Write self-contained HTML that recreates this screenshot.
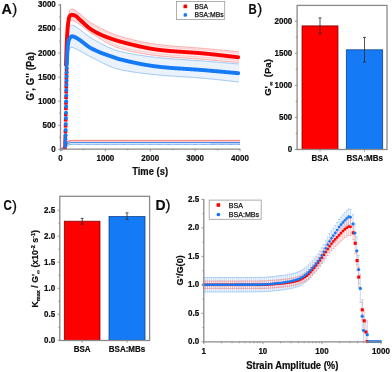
<!DOCTYPE html>
<html><head><meta charset="utf-8"><style>
html,body{margin:0;padding:0;background:#fff;width:392px;height:372px;overflow:hidden}
svg{display:block;will-change:transform}
text{font-family:"Liberation Sans", sans-serif} text[font-weight=bold]{stroke:#0e0e0e;stroke-width:0.2px} text.tl{stroke-width:0.22px} text.pr{stroke:#1a1a1a;stroke-width:0.35px} text[font-weight=normal]{stroke:#111;stroke-width:0.25px}
</style></head><body>
<svg width="392" height="372" viewBox="0 0 392 372" font-family='"Liberation Sans", sans-serif'>
<rect x="0" y="0" width="392" height="372" fill="#ffffff" stroke="none" stroke-width="0" />
<path d="M68,35 L68.86,29.54 L69.72,26.39 L70.58,25.62 L71.44,25.27 L72.3,25.22 L73.16,25.44 L74.02,25.84 L74.87,26.34 L75.73,26.85 L76.59,27.33 L77.45,27.85 L78.31,28.42 L79.17,29.03 L80.03,29.67 L80.89,30.34 L81.75,31.03 L82.61,31.73 L83.47,32.44 L84.33,33.14 L85.19,33.84 L86.05,34.53 L86.9,35.19 L87.76,35.83 L88.62,36.43 L89.48,36.99 L90.34,37.5 L91.2,38.01 L92.06,38.51 L92.92,39.01 L93.78,39.51 L94.64,40.01 L95.5,40.51 L96.36,41 L97.22,41.49 L98.08,41.97 L98.93,42.45 L99.79,42.92 L100.65,43.39 L101.51,43.85 L102.37,44.3 L103.23,44.75 L104.09,45.19 L104.95,45.62 L105.81,46.04 L106.67,46.46 L107.53,46.86 L108.39,47.25 L109.25,47.64 L110.11,48.01 L110.96,48.38 L111.82,48.73 L112.68,49.07 L113.54,49.39 L114.4,49.71 L115.26,50.01 L116.12,50.29 L116.98,50.56 L117.84,50.82 L118.7,51.06 L119.56,51.29 L120.42,51.5 L121.28,51.71 L122.14,51.91 L122.99,52.11 L123.85,52.3 L124.71,52.49 L125.57,52.68 L126.43,52.86 L127.29,53.04 L128.15,53.22 L129.01,53.39 L129.87,53.56 L130.73,53.72 L131.59,53.89 L132.45,54.05 L133.31,54.2 L134.17,54.35 L135.03,54.5 L135.88,54.65 L136.74,54.79 L137.6,54.93 L138.46,55.07 L139.32,55.21 L140.18,55.34 L141.04,55.47 L141.9,55.6 L142.76,55.72 L143.62,55.84 L144.48,55.96 L145.34,56.08 L146.2,56.2 L147.06,56.31 L147.91,56.42 L148.77,56.53 L149.63,56.64 L150.49,56.74 L151.35,56.85 L152.21,56.95 L153.07,57.05 L153.93,57.15 L154.79,57.24 L155.65,57.34 L156.51,57.43 L157.37,57.53 L158.23,57.62 L159.09,57.71 L159.94,57.79 L160.8,57.88 L161.66,57.97 L162.52,58.05 L163.38,58.13 L164.24,58.21 L165.1,58.29 L165.96,58.36 L166.82,58.44 L167.68,58.51 L168.54,58.58 L169.4,58.65 L170.26,58.72 L171.12,58.79 L171.97,58.85 L172.83,58.92 L173.69,58.98 L174.55,59.04 L175.41,59.11 L176.27,59.17 L177.13,59.23 L177.99,59.29 L178.85,59.35 L179.71,59.41 L180.57,59.46 L181.43,59.52 L182.29,59.58 L183.15,59.63 L184.01,59.69 L184.86,59.75 L185.72,59.8 L186.58,59.86 L187.44,59.91 L188.3,59.97 L189.16,60.03 L190.02,60.08 L190.88,60.14 L191.74,60.2 L192.6,60.25 L193.46,60.31 L194.32,60.37 L195.18,60.43 L196.04,60.49 L196.89,60.55 L197.75,60.61 L198.61,60.67 L199.47,60.73 L200.33,60.8 L201.19,60.86 L202.05,60.93 L202.91,60.99 L203.77,61.06 L204.63,61.13 L205.49,61.2 L206.35,61.27 L207.21,61.34 L208.07,61.4 L208.92,61.47 L209.78,61.54 L210.64,61.62 L211.5,61.69 L212.36,61.76 L213.22,61.83 L214.08,61.9 L214.94,61.97 L215.8,62.04 L216.66,62.11 L217.52,62.19 L218.38,62.26 L219.24,62.33 L220.1,62.4 L220.95,62.48 L221.81,62.55 L222.67,62.62 L223.53,62.69 L224.39,62.77 L225.25,62.84 L226.11,62.91 L226.97,62.99 L227.83,63.06 L228.69,63.13 L229.55,63.2 L230.41,63.28 L231.27,63.35 L232.13,63.42 L232.98,63.49 L233.84,63.57 L234.7,63.64 L235.56,63.71 L236.42,63.78 L237.28,63.86 L238.14,63.93 L239,64 L239,82 L238.14,81.91 L237.28,81.82 L236.42,81.72 L235.56,81.63 L234.7,81.54 L233.84,81.44 L232.98,81.35 L232.13,81.25 L231.27,81.16 L230.41,81.06 L229.55,80.97 L228.69,80.87 L227.83,80.77 L226.97,80.68 L226.11,80.58 L225.25,80.49 L224.39,80.39 L223.53,80.29 L222.67,80.2 L221.81,80.1 L220.95,80.01 L220.1,79.91 L219.24,79.82 L218.38,79.73 L217.52,79.63 L216.66,79.54 L215.8,79.45 L214.94,79.36 L214.08,79.27 L213.22,79.18 L212.36,79.09 L211.5,79 L210.64,78.91 L209.78,78.83 L208.92,78.75 L208.07,78.66 L207.21,78.58 L206.35,78.5 L205.49,78.42 L204.63,78.34 L203.77,78.27 L202.91,78.19 L202.05,78.12 L201.19,78.05 L200.33,77.98 L199.47,77.91 L198.61,77.84 L197.75,77.78 L196.89,77.71 L196.04,77.65 L195.18,77.59 L194.32,77.53 L193.46,77.47 L192.6,77.41 L191.74,77.35 L190.88,77.29 L190.02,77.24 L189.16,77.18 L188.3,77.13 L187.44,77.07 L186.58,77.02 L185.72,76.96 L184.86,76.91 L184.01,76.85 L183.15,76.8 L182.29,76.75 L181.43,76.69 L180.57,76.64 L179.71,76.58 L178.85,76.53 L177.99,76.47 L177.13,76.42 L176.27,76.36 L175.41,76.31 L174.55,76.25 L173.69,76.19 L172.83,76.13 L171.97,76.07 L171.12,76.01 L170.26,75.95 L169.4,75.89 L168.54,75.82 L167.68,75.76 L166.82,75.69 L165.96,75.62 L165.1,75.55 L164.24,75.48 L163.38,75.41 L162.52,75.33 L161.66,75.25 L160.8,75.18 L159.94,75.09 L159.09,75.01 L158.23,74.93 L157.37,74.85 L156.51,74.77 L155.65,74.68 L154.79,74.6 L153.93,74.51 L153.07,74.43 L152.21,74.34 L151.35,74.25 L150.49,74.16 L149.63,74.07 L148.77,73.98 L147.91,73.88 L147.06,73.79 L146.2,73.69 L145.34,73.6 L144.48,73.5 L143.62,73.4 L142.76,73.29 L141.9,73.19 L141.04,73.08 L140.18,72.97 L139.32,72.86 L138.46,72.75 L137.6,72.63 L136.74,72.51 L135.88,72.39 L135.03,72.27 L134.17,72.14 L133.31,72.01 L132.45,71.88 L131.59,71.74 L130.73,71.61 L129.87,71.47 L129.01,71.32 L128.15,71.17 L127.29,71.02 L126.43,70.87 L125.57,70.71 L124.71,70.55 L123.85,70.39 L122.99,70.22 L122.14,70.05 L121.28,69.87 L120.42,69.69 L119.56,69.5 L118.7,69.3 L117.84,69.08 L116.98,68.84 L116.12,68.58 L115.26,68.31 L114.4,68.02 L113.54,67.72 L112.68,67.4 L111.82,67.07 L110.96,66.73 L110.11,66.38 L109.25,66.01 L108.39,65.64 L107.53,65.25 L106.67,64.86 L105.81,64.46 L104.95,64.05 L104.09,63.63 L103.23,63.21 L102.37,62.78 L101.51,62.35 L100.65,61.92 L99.79,61.48 L98.93,61.04 L98.08,60.6 L97.22,60.15 L96.36,59.71 L95.5,59.27 L94.64,58.83 L93.78,58.39 L92.92,57.95 L92.06,57.52 L91.2,57.09 L90.34,56.67 L89.48,56.24 L88.62,55.81 L87.76,55.35 L86.9,54.89 L86.05,54.41 L85.19,53.92 L84.33,53.44 L83.47,52.94 L82.61,52.45 L81.75,51.97 L80.89,51.49 L80.03,51.02 L79.17,50.56 L78.31,50.11 L77.45,49.68 L76.59,49.27 L75.73,48.88 L74.87,48.43 L74.02,47.98 L73.16,47.62 L72.3,47.42 L71.44,47.45 L70.58,47.72 L69.72,48.29 L68.86,50.72 L68,55Z" fill="#eaf2fd" stroke="none"/>
<path d="M68,20 L68.86,14 L69.72,10.45 L70.58,9.53 L71.44,9.09 L72.3,9.02 L73.16,9.26 L74.02,9.71 L74.87,10.27 L75.73,10.84 L76.59,11.36 L77.45,11.94 L78.31,12.57 L79.17,13.24 L80.03,13.95 L80.89,14.69 L81.75,15.44 L82.61,16.21 L83.47,16.98 L84.33,17.75 L85.19,18.51 L86.05,19.25 L86.9,19.97 L87.76,20.65 L88.62,21.28 L89.48,21.87 L90.34,22.41 L91.2,22.93 L92.06,23.44 L92.92,23.95 L93.78,24.46 L94.64,24.95 L95.5,25.44 L96.36,25.93 L97.22,26.41 L98.08,26.88 L98.93,27.34 L99.79,27.8 L100.65,28.25 L101.51,28.7 L102.37,29.13 L103.23,29.56 L104.09,29.99 L104.95,30.4 L105.81,30.81 L106.67,31.21 L107.53,31.6 L108.39,31.98 L109.25,32.36 L110.11,32.72 L110.96,33.08 L111.82,33.43 L112.68,33.77 L113.54,34.1 L114.4,34.43 L115.26,34.74 L116.12,35.04 L116.98,35.34 L117.84,35.62 L118.7,35.9 L119.56,36.17 L120.42,36.42 L121.28,36.68 L122.14,36.93 L122.99,37.17 L123.85,37.42 L124.71,37.66 L125.57,37.9 L126.43,38.13 L127.29,38.37 L128.15,38.6 L129.01,38.82 L129.87,39.04 L130.73,39.26 L131.59,39.48 L132.45,39.69 L133.31,39.91 L134.17,40.11 L135.03,40.32 L135.88,40.52 L136.74,40.72 L137.6,40.91 L138.46,41.1 L139.32,41.29 L140.18,41.48 L141.04,41.66 L141.9,41.83 L142.76,42.01 L143.62,42.18 L144.48,42.35 L145.34,42.52 L146.2,42.68 L147.06,42.83 L147.91,42.99 L148.77,43.14 L149.63,43.29 L150.49,43.43 L151.35,43.58 L152.21,43.71 L153.07,43.85 L153.93,43.98 L154.79,44.1 L155.65,44.23 L156.51,44.35 L157.37,44.47 L158.23,44.58 L159.09,44.69 L159.94,44.79 L160.8,44.9 L161.66,45 L162.52,45.09 L163.38,45.19 L164.24,45.28 L165.1,45.37 L165.96,45.46 L166.82,45.55 L167.68,45.63 L168.54,45.71 L169.4,45.79 L170.26,45.87 L171.12,45.95 L171.97,46.02 L172.83,46.1 L173.69,46.17 L174.55,46.24 L175.41,46.31 L176.27,46.38 L177.13,46.45 L177.99,46.51 L178.85,46.58 L179.71,46.65 L180.57,46.71 L181.43,46.77 L182.29,46.84 L183.15,46.9 L184.01,46.96 L184.86,47.02 L185.72,47.08 L186.58,47.14 L187.44,47.21 L188.3,47.27 L189.16,47.33 L190.02,47.39 L190.88,47.45 L191.74,47.51 L192.6,47.58 L193.46,47.64 L194.32,47.7 L195.18,47.77 L196.04,47.83 L196.89,47.9 L197.75,47.97 L198.61,48.03 L199.47,48.1 L200.33,48.17 L201.19,48.24 L202.05,48.32 L202.91,48.39 L203.77,48.47 L204.63,48.54 L205.49,48.62 L206.35,48.7 L207.21,48.77 L208.07,48.85 L208.92,48.93 L209.78,49 L210.64,49.08 L211.5,49.16 L212.36,49.24 L213.22,49.32 L214.08,49.39 L214.94,49.47 L215.8,49.55 L216.66,49.63 L217.52,49.71 L218.38,49.79 L219.24,49.87 L220.1,49.95 L220.95,50.03 L221.81,50.11 L222.67,50.19 L223.53,50.27 L224.39,50.35 L225.25,50.43 L226.11,50.51 L226.97,50.59 L227.83,50.67 L228.69,50.75 L229.55,50.83 L230.41,50.91 L231.27,50.99 L232.13,51.07 L232.98,51.15 L233.84,51.22 L234.7,51.3 L235.56,51.38 L236.42,51.46 L237.28,51.54 L238.14,51.62 L239,51.7 L239,62.5 L238.14,62.42 L237.28,62.35 L236.42,62.27 L235.56,62.19 L234.7,62.12 L233.84,62.04 L232.98,61.96 L232.13,61.88 L231.27,61.8 L230.41,61.73 L229.55,61.65 L228.69,61.57 L227.83,61.49 L226.97,61.41 L226.11,61.34 L225.25,61.26 L224.39,61.18 L223.53,61.1 L222.67,61.02 L221.81,60.95 L220.95,60.87 L220.1,60.79 L219.24,60.71 L218.38,60.63 L217.52,60.56 L216.66,60.48 L215.8,60.4 L214.94,60.33 L214.08,60.25 L213.22,60.18 L212.36,60.1 L211.5,60.02 L210.64,59.95 L209.78,59.87 L208.92,59.8 L208.07,59.73 L207.21,59.65 L206.35,59.58 L205.49,59.51 L204.63,59.44 L203.77,59.36 L202.91,59.29 L202.05,59.22 L201.19,59.15 L200.33,59.09 L199.47,59.02 L198.61,58.96 L197.75,58.89 L196.89,58.83 L196.04,58.77 L195.18,58.71 L194.32,58.65 L193.46,58.59 L192.6,58.53 L191.74,58.47 L190.88,58.41 L190.02,58.36 L189.16,58.3 L188.3,58.24 L187.44,58.19 L186.58,58.13 L185.72,58.08 L184.86,58.02 L184.01,57.96 L183.15,57.91 L182.29,57.85 L181.43,57.79 L180.57,57.73 L179.71,57.68 L178.85,57.62 L177.99,57.56 L177.13,57.5 L176.27,57.43 L175.41,57.37 L174.55,57.31 L173.69,57.24 L172.83,57.18 L171.97,57.11 L171.12,57.04 L170.26,56.97 L169.4,56.9 L168.54,56.83 L167.68,56.75 L166.82,56.68 L165.96,56.6 L165.1,56.52 L164.24,56.44 L163.38,56.35 L162.52,56.27 L161.66,56.18 L160.8,56.09 L159.94,55.99 L159.09,55.9 L158.23,55.8 L157.37,55.7 L156.51,55.6 L155.65,55.49 L154.79,55.38 L153.93,55.27 L153.07,55.16 L152.21,55.04 L151.35,54.92 L150.49,54.8 L149.63,54.68 L148.77,54.55 L147.91,54.42 L147.06,54.29 L146.2,54.15 L145.34,54.02 L144.48,53.87 L143.62,53.73 L142.76,53.58 L141.9,53.43 L141.04,53.28 L140.18,53.12 L139.32,52.96 L138.46,52.8 L137.6,52.63 L136.74,52.46 L135.88,52.28 L135.03,52.11 L134.17,51.93 L133.31,51.74 L132.45,51.55 L131.59,51.36 L130.73,51.17 L129.87,50.97 L129.01,50.76 L128.15,50.56 L127.29,50.35 L126.43,50.13 L125.57,49.91 L124.71,49.69 L123.85,49.47 L122.99,49.23 L122.14,49 L121.28,48.76 L120.42,48.52 L119.56,48.27 L118.7,48 L117.84,47.72 L116.98,47.41 L116.12,47.09 L115.26,46.76 L114.4,46.4 L113.54,46.03 L112.68,45.65 L111.82,45.25 L110.96,44.83 L110.11,44.41 L109.25,43.97 L108.39,43.52 L107.53,43.06 L106.67,42.59 L105.81,42.11 L104.95,41.62 L104.09,41.12 L103.23,40.61 L102.37,40.1 L101.51,39.58 L100.65,39.05 L99.79,38.52 L98.93,37.98 L98.08,37.44 L97.22,36.9 L96.36,36.36 L95.5,35.81 L94.64,35.26 L93.78,34.71 L92.92,34.16 L92.06,33.61 L91.2,33.06 L90.34,32.52 L89.48,31.96 L88.62,31.38 L87.76,30.76 L86.9,30.11 L86.05,29.44 L85.19,28.75 L84.33,28.06 L83.47,27.36 L82.61,26.66 L81.75,25.97 L80.89,25.3 L80.03,24.64 L79.17,24.01 L78.31,23.41 L77.45,22.85 L76.59,22.33 L75.73,21.85 L74.87,21.34 L74.02,20.84 L73.16,20.44 L72.3,20.22 L71.44,20.27 L70.58,20.62 L69.72,21.39 L68.86,24.54 L68,30Z" fill="#fdeded" stroke="none"/>
<path d="M68,35 L68.86,29.54 L69.72,26.39 L70.58,25.62 L71.44,25.27 L72.3,25.22 L73.16,25.44 L74.02,25.84 L74.87,26.34 L75.73,26.85 L76.59,27.33 L77.45,27.85 L78.31,28.42 L79.17,29.03 L80.03,29.67 L80.89,30.34 L81.75,31.03 L82.61,31.73 L83.47,32.44 L84.33,33.14 L85.19,33.84 L86.05,34.53 L86.9,35.19 L87.76,35.83 L88.62,36.43 L89.48,36.99 L90.34,37.5 L91.2,38.01 L92.06,38.51 L92.92,39.01 L93.78,39.51 L94.64,40.01 L95.5,40.51 L96.36,41 L97.22,41.49 L98.08,41.97 L98.93,42.45 L99.79,42.92 L100.65,43.39 L101.51,43.85 L102.37,44.3 L103.23,44.75 L104.09,45.19 L104.95,45.62 L105.81,46.04 L106.67,46.46 L107.53,46.86 L108.39,47.25 L109.25,47.64 L110.11,48.01 L110.96,48.38 L111.82,48.73 L112.68,49.07 L113.54,49.39 L114.4,49.71 L115.26,50.01 L116.12,50.29 L116.98,50.56 L117.84,50.82 L118.7,51.06 L119.56,51.29 L120.42,51.5 L121.28,51.71 L122.14,51.91 L122.99,52.11 L123.85,52.3 L124.71,52.49 L125.57,52.68 L126.43,52.86 L127.29,53.04 L128.15,53.22 L129.01,53.39 L129.87,53.56 L130.73,53.72 L131.59,53.89 L132.45,54.05 L133.31,54.2 L134.17,54.35 L135.03,54.5 L135.88,54.65 L136.74,54.79 L137.6,54.93 L138.46,55.07 L139.32,55.21 L140.18,55.34 L141.04,55.47 L141.9,55.6 L142.76,55.72 L143.62,55.84 L144.48,55.96 L145.34,56.08 L146.2,56.2 L147.06,56.31 L147.91,56.42 L148.77,56.53 L149.63,56.64 L150.49,56.74 L151.35,56.85 L152.21,56.95 L153.07,57.05 L153.93,57.15 L154.79,57.24 L155.65,57.34 L156.51,57.43 L157.37,57.53 L158.23,57.62 L159.09,57.71 L159.94,57.79 L160.8,57.88 L161.66,57.97 L162.52,58.05 L163.38,58.13 L164.24,58.21 L165.1,58.29 L165.96,58.36 L166.82,58.44 L167.68,58.51 L168.54,58.58 L169.4,58.65 L170.26,58.72 L171.12,58.79 L171.97,58.85 L172.83,58.92 L173.69,58.98 L174.55,59.04 L175.41,59.11 L176.27,59.17 L177.13,59.23 L177.99,59.29 L178.85,59.35 L179.71,59.41 L180.57,59.46 L181.43,59.52 L182.29,59.58 L183.15,59.63 L184.01,59.69 L184.86,59.75 L185.72,59.8 L186.58,59.86 L187.44,59.91 L188.3,59.97 L189.16,60.03 L190.02,60.08 L190.88,60.14 L191.74,60.2 L192.6,60.25 L193.46,60.31 L194.32,60.37 L195.18,60.43 L196.04,60.49 L196.89,60.55 L197.75,60.61 L198.61,60.67 L199.47,60.73 L200.33,60.8 L201.19,60.86 L202.05,60.93 L202.91,60.99 L203.77,61.06 L204.63,61.13 L205.49,61.2 L206.35,61.27 L207.21,61.34 L208.07,61.4 L208.92,61.47 L209.78,61.54 L210.64,61.62 L211.5,61.69 L212.36,61.76 L213.22,61.83 L214.08,61.9 L214.94,61.97 L215.8,62.04 L216.66,62.11 L217.52,62.19 L218.38,62.26 L219.24,62.33 L220.1,62.4 L220.95,62.48 L221.81,62.55 L222.67,62.62 L223.53,62.69 L224.39,62.77 L225.25,62.84 L226.11,62.91 L226.97,62.99 L227.83,63.06 L228.69,63.13 L229.55,63.2 L230.41,63.28 L231.27,63.35 L232.13,63.42 L232.98,63.49 L233.84,63.57 L234.7,63.64 L235.56,63.71 L236.42,63.78 L237.28,63.86 L238.14,63.93 L239,64" stroke="#8dbdf3" stroke-width="0.9" fill="none" />
<path d="M68,55 L68.86,50.72 L69.72,48.29 L70.58,47.72 L71.44,47.45 L72.3,47.42 L73.16,47.62 L74.02,47.98 L74.87,48.43 L75.73,48.88 L76.59,49.27 L77.45,49.68 L78.31,50.11 L79.17,50.56 L80.03,51.02 L80.89,51.49 L81.75,51.97 L82.61,52.45 L83.47,52.94 L84.33,53.44 L85.19,53.92 L86.05,54.41 L86.9,54.89 L87.76,55.35 L88.62,55.81 L89.48,56.24 L90.34,56.67 L91.2,57.09 L92.06,57.52 L92.92,57.95 L93.78,58.39 L94.64,58.83 L95.5,59.27 L96.36,59.71 L97.22,60.15 L98.08,60.6 L98.93,61.04 L99.79,61.48 L100.65,61.92 L101.51,62.35 L102.37,62.78 L103.23,63.21 L104.09,63.63 L104.95,64.05 L105.81,64.46 L106.67,64.86 L107.53,65.25 L108.39,65.64 L109.25,66.01 L110.11,66.38 L110.96,66.73 L111.82,67.07 L112.68,67.4 L113.54,67.72 L114.4,68.02 L115.26,68.31 L116.12,68.58 L116.98,68.84 L117.84,69.08 L118.7,69.3 L119.56,69.5 L120.42,69.69 L121.28,69.87 L122.14,70.05 L122.99,70.22 L123.85,70.39 L124.71,70.55 L125.57,70.71 L126.43,70.87 L127.29,71.02 L128.15,71.17 L129.01,71.32 L129.87,71.47 L130.73,71.61 L131.59,71.74 L132.45,71.88 L133.31,72.01 L134.17,72.14 L135.03,72.27 L135.88,72.39 L136.74,72.51 L137.6,72.63 L138.46,72.75 L139.32,72.86 L140.18,72.97 L141.04,73.08 L141.9,73.19 L142.76,73.29 L143.62,73.4 L144.48,73.5 L145.34,73.6 L146.2,73.69 L147.06,73.79 L147.91,73.88 L148.77,73.98 L149.63,74.07 L150.49,74.16 L151.35,74.25 L152.21,74.34 L153.07,74.43 L153.93,74.51 L154.79,74.6 L155.65,74.68 L156.51,74.77 L157.37,74.85 L158.23,74.93 L159.09,75.01 L159.94,75.09 L160.8,75.18 L161.66,75.25 L162.52,75.33 L163.38,75.41 L164.24,75.48 L165.1,75.55 L165.96,75.62 L166.82,75.69 L167.68,75.76 L168.54,75.82 L169.4,75.89 L170.26,75.95 L171.12,76.01 L171.97,76.07 L172.83,76.13 L173.69,76.19 L174.55,76.25 L175.41,76.31 L176.27,76.36 L177.13,76.42 L177.99,76.47 L178.85,76.53 L179.71,76.58 L180.57,76.64 L181.43,76.69 L182.29,76.75 L183.15,76.8 L184.01,76.85 L184.86,76.91 L185.72,76.96 L186.58,77.02 L187.44,77.07 L188.3,77.13 L189.16,77.18 L190.02,77.24 L190.88,77.29 L191.74,77.35 L192.6,77.41 L193.46,77.47 L194.32,77.53 L195.18,77.59 L196.04,77.65 L196.89,77.71 L197.75,77.78 L198.61,77.84 L199.47,77.91 L200.33,77.98 L201.19,78.05 L202.05,78.12 L202.91,78.19 L203.77,78.27 L204.63,78.34 L205.49,78.42 L206.35,78.5 L207.21,78.58 L208.07,78.66 L208.92,78.75 L209.78,78.83 L210.64,78.91 L211.5,79 L212.36,79.09 L213.22,79.18 L214.08,79.27 L214.94,79.36 L215.8,79.45 L216.66,79.54 L217.52,79.63 L218.38,79.73 L219.24,79.82 L220.1,79.91 L220.95,80.01 L221.81,80.1 L222.67,80.2 L223.53,80.29 L224.39,80.39 L225.25,80.49 L226.11,80.58 L226.97,80.68 L227.83,80.77 L228.69,80.87 L229.55,80.97 L230.41,81.06 L231.27,81.16 L232.13,81.25 L232.98,81.35 L233.84,81.44 L234.7,81.54 L235.56,81.63 L236.42,81.72 L237.28,81.82 L238.14,81.91 L239,82" stroke="#8dbdf3" stroke-width="0.9" fill="none" />
<path d="M68,20 L68.86,14 L69.72,10.45 L70.58,9.53 L71.44,9.09 L72.3,9.02 L73.16,9.26 L74.02,9.71 L74.87,10.27 L75.73,10.84 L76.59,11.36 L77.45,11.94 L78.31,12.57 L79.17,13.24 L80.03,13.95 L80.89,14.69 L81.75,15.44 L82.61,16.21 L83.47,16.98 L84.33,17.75 L85.19,18.51 L86.05,19.25 L86.9,19.97 L87.76,20.65 L88.62,21.28 L89.48,21.87 L90.34,22.41 L91.2,22.93 L92.06,23.44 L92.92,23.95 L93.78,24.46 L94.64,24.95 L95.5,25.44 L96.36,25.93 L97.22,26.41 L98.08,26.88 L98.93,27.34 L99.79,27.8 L100.65,28.25 L101.51,28.7 L102.37,29.13 L103.23,29.56 L104.09,29.99 L104.95,30.4 L105.81,30.81 L106.67,31.21 L107.53,31.6 L108.39,31.98 L109.25,32.36 L110.11,32.72 L110.96,33.08 L111.82,33.43 L112.68,33.77 L113.54,34.1 L114.4,34.43 L115.26,34.74 L116.12,35.04 L116.98,35.34 L117.84,35.62 L118.7,35.9 L119.56,36.17 L120.42,36.42 L121.28,36.68 L122.14,36.93 L122.99,37.17 L123.85,37.42 L124.71,37.66 L125.57,37.9 L126.43,38.13 L127.29,38.37 L128.15,38.6 L129.01,38.82 L129.87,39.04 L130.73,39.26 L131.59,39.48 L132.45,39.69 L133.31,39.91 L134.17,40.11 L135.03,40.32 L135.88,40.52 L136.74,40.72 L137.6,40.91 L138.46,41.1 L139.32,41.29 L140.18,41.48 L141.04,41.66 L141.9,41.83 L142.76,42.01 L143.62,42.18 L144.48,42.35 L145.34,42.52 L146.2,42.68 L147.06,42.83 L147.91,42.99 L148.77,43.14 L149.63,43.29 L150.49,43.43 L151.35,43.58 L152.21,43.71 L153.07,43.85 L153.93,43.98 L154.79,44.1 L155.65,44.23 L156.51,44.35 L157.37,44.47 L158.23,44.58 L159.09,44.69 L159.94,44.79 L160.8,44.9 L161.66,45 L162.52,45.09 L163.38,45.19 L164.24,45.28 L165.1,45.37 L165.96,45.46 L166.82,45.55 L167.68,45.63 L168.54,45.71 L169.4,45.79 L170.26,45.87 L171.12,45.95 L171.97,46.02 L172.83,46.1 L173.69,46.17 L174.55,46.24 L175.41,46.31 L176.27,46.38 L177.13,46.45 L177.99,46.51 L178.85,46.58 L179.71,46.65 L180.57,46.71 L181.43,46.77 L182.29,46.84 L183.15,46.9 L184.01,46.96 L184.86,47.02 L185.72,47.08 L186.58,47.14 L187.44,47.21 L188.3,47.27 L189.16,47.33 L190.02,47.39 L190.88,47.45 L191.74,47.51 L192.6,47.58 L193.46,47.64 L194.32,47.7 L195.18,47.77 L196.04,47.83 L196.89,47.9 L197.75,47.97 L198.61,48.03 L199.47,48.1 L200.33,48.17 L201.19,48.24 L202.05,48.32 L202.91,48.39 L203.77,48.47 L204.63,48.54 L205.49,48.62 L206.35,48.7 L207.21,48.77 L208.07,48.85 L208.92,48.93 L209.78,49 L210.64,49.08 L211.5,49.16 L212.36,49.24 L213.22,49.32 L214.08,49.39 L214.94,49.47 L215.8,49.55 L216.66,49.63 L217.52,49.71 L218.38,49.79 L219.24,49.87 L220.1,49.95 L220.95,50.03 L221.81,50.11 L222.67,50.19 L223.53,50.27 L224.39,50.35 L225.25,50.43 L226.11,50.51 L226.97,50.59 L227.83,50.67 L228.69,50.75 L229.55,50.83 L230.41,50.91 L231.27,50.99 L232.13,51.07 L232.98,51.15 L233.84,51.22 L234.7,51.3 L235.56,51.38 L236.42,51.46 L237.28,51.54 L238.14,51.62 L239,51.7" stroke="#fb9a9a" stroke-width="0.9" fill="none" />
<path d="M68,30 L68.86,24.54 L69.72,21.39 L70.58,20.62 L71.44,20.27 L72.3,20.22 L73.16,20.44 L74.02,20.84 L74.87,21.34 L75.73,21.85 L76.59,22.33 L77.45,22.85 L78.31,23.41 L79.17,24.01 L80.03,24.64 L80.89,25.3 L81.75,25.97 L82.61,26.66 L83.47,27.36 L84.33,28.06 L85.19,28.75 L86.05,29.44 L86.9,30.11 L87.76,30.76 L88.62,31.38 L89.48,31.96 L90.34,32.52 L91.2,33.06 L92.06,33.61 L92.92,34.16 L93.78,34.71 L94.64,35.26 L95.5,35.81 L96.36,36.36 L97.22,36.9 L98.08,37.44 L98.93,37.98 L99.79,38.52 L100.65,39.05 L101.51,39.58 L102.37,40.1 L103.23,40.61 L104.09,41.12 L104.95,41.62 L105.81,42.11 L106.67,42.59 L107.53,43.06 L108.39,43.52 L109.25,43.97 L110.11,44.41 L110.96,44.83 L111.82,45.25 L112.68,45.65 L113.54,46.03 L114.4,46.4 L115.26,46.76 L116.12,47.09 L116.98,47.41 L117.84,47.72 L118.7,48 L119.56,48.27 L120.42,48.52 L121.28,48.76 L122.14,49 L122.99,49.23 L123.85,49.47 L124.71,49.69 L125.57,49.91 L126.43,50.13 L127.29,50.35 L128.15,50.56 L129.01,50.76 L129.87,50.97 L130.73,51.17 L131.59,51.36 L132.45,51.55 L133.31,51.74 L134.17,51.93 L135.03,52.11 L135.88,52.28 L136.74,52.46 L137.6,52.63 L138.46,52.8 L139.32,52.96 L140.18,53.12 L141.04,53.28 L141.9,53.43 L142.76,53.58 L143.62,53.73 L144.48,53.87 L145.34,54.02 L146.2,54.15 L147.06,54.29 L147.91,54.42 L148.77,54.55 L149.63,54.68 L150.49,54.8 L151.35,54.92 L152.21,55.04 L153.07,55.16 L153.93,55.27 L154.79,55.38 L155.65,55.49 L156.51,55.6 L157.37,55.7 L158.23,55.8 L159.09,55.9 L159.94,55.99 L160.8,56.09 L161.66,56.18 L162.52,56.27 L163.38,56.35 L164.24,56.44 L165.1,56.52 L165.96,56.6 L166.82,56.68 L167.68,56.75 L168.54,56.83 L169.4,56.9 L170.26,56.97 L171.12,57.04 L171.97,57.11 L172.83,57.18 L173.69,57.24 L174.55,57.31 L175.41,57.37 L176.27,57.43 L177.13,57.5 L177.99,57.56 L178.85,57.62 L179.71,57.68 L180.57,57.73 L181.43,57.79 L182.29,57.85 L183.15,57.91 L184.01,57.96 L184.86,58.02 L185.72,58.08 L186.58,58.13 L187.44,58.19 L188.3,58.24 L189.16,58.3 L190.02,58.36 L190.88,58.41 L191.74,58.47 L192.6,58.53 L193.46,58.59 L194.32,58.65 L195.18,58.71 L196.04,58.77 L196.89,58.83 L197.75,58.89 L198.61,58.96 L199.47,59.02 L200.33,59.09 L201.19,59.15 L202.05,59.22 L202.91,59.29 L203.77,59.36 L204.63,59.44 L205.49,59.51 L206.35,59.58 L207.21,59.65 L208.07,59.73 L208.92,59.8 L209.78,59.87 L210.64,59.95 L211.5,60.02 L212.36,60.1 L213.22,60.18 L214.08,60.25 L214.94,60.33 L215.8,60.4 L216.66,60.48 L217.52,60.56 L218.38,60.63 L219.24,60.71 L220.1,60.79 L220.95,60.87 L221.81,60.95 L222.67,61.02 L223.53,61.1 L224.39,61.18 L225.25,61.26 L226.11,61.34 L226.97,61.41 L227.83,61.49 L228.69,61.57 L229.55,61.65 L230.41,61.73 L231.27,61.8 L232.13,61.88 L232.98,61.96 L233.84,62.04 L234.7,62.12 L235.56,62.19 L236.42,62.27 L237.28,62.35 L238.14,62.42 L239,62.5" stroke="#fb9a9a" stroke-width="0.9" fill="none" />
<path d="M71.44,10.69 L72.3,10.62 L73.16,10.86 L74.02,11.31 L74.87,11.87 L75.73,12.44 L76.59,12.96 L77.45,13.54 L78.31,14.17 L79.17,14.84 L80.03,15.55 L80.89,16.29 L81.75,17.04 L82.61,17.81 L83.47,18.58 L84.33,19.35 L85.19,20.11 L86.05,20.85 L86.9,21.57 L87.76,22.25 L88.62,22.88 L89.48,23.47 L90.34,24.01 L91.2,24.53 L92.06,25.04 L92.92,25.55 L93.78,26.06 L94.64,26.55 L95.5,27.04 L96.36,27.53 L97.22,28.01 L98.08,28.48 L98.93,28.94 L99.79,29.4 L100.65,29.85 L101.51,30.3 L102.37,30.73 L103.23,31.16 L104.09,31.59 L104.95,32 L105.81,32.41 L106.67,32.81 L107.53,33.2 L108.39,33.58 L109.25,33.96 L110.11,34.32 L110.96,34.68 L111.82,35.03 L112.68,35.37 L113.54,35.7 L114.4,36.03 L115.26,36.34 L116.12,36.64 L116.98,36.94 L117.84,37.22 L118.7,37.5 L119.56,37.77 L120.42,38.02 L121.28,38.28 L122.14,38.53 L122.99,38.77 L123.85,39.02 L124.71,39.26 L125.57,39.5 L126.43,39.73 L127.29,39.97 L128.15,40.2 L129.01,40.42 L129.87,40.64 L130.73,40.86 L131.59,41.08 L132.45,41.29 L133.31,41.51 L134.17,41.71 L135.03,41.92 L135.88,42.12 L136.74,42.32 L137.6,42.51 L138.46,42.7 L139.32,42.89 L140.18,43.08 L141.04,43.26 L141.9,43.43 L142.76,43.61 L143.62,43.78 L144.48,43.95 L145.34,44.12 L146.2,44.28 L147.06,44.43 L147.91,44.59 L148.77,44.74 L149.63,44.89 L150.49,45.03 L151.35,45.18 L152.21,45.31 L153.07,45.45 L153.93,45.58 L154.79,45.7 L155.65,45.83 L156.51,45.95 L157.37,46.07 L158.23,46.18 L159.09,46.29 L159.94,46.39 L160.8,46.5 L161.66,46.6 L162.52,46.69 L163.38,46.79 L164.24,46.88 L165.1,46.97 L165.96,47.06 L166.82,47.15 L167.68,47.23 L168.54,47.31 L169.4,47.39 L170.26,47.47 L171.12,47.55 L171.97,47.62 L172.83,47.7 L173.69,47.77 L174.55,47.84 L175.41,47.91 L176.27,47.98 L177.13,48.05 L177.99,48.11 L178.85,48.18 L179.71,48.25 L180.57,48.31 L181.43,48.37 L182.29,48.44 L183.15,48.5 L184.01,48.56 L184.86,48.62 L185.72,48.68 L186.58,48.74 L187.44,48.81 L188.3,48.87 L189.16,48.93 L190.02,48.99 L190.88,49.05 L191.74,49.11 L192.6,49.18 L193.46,49.24 L194.32,49.3 L195.18,49.37 L196.04,49.43 L196.89,49.5 L197.75,49.57 L198.61,49.63 L199.47,49.7 L200.33,49.77 L201.19,49.84 L202.05,49.92 L202.91,49.99 L203.77,50.07 L204.63,50.14 L205.49,50.22 L206.35,50.3 L207.21,50.37 L208.07,50.45 L208.92,50.53 L209.78,50.6 L210.64,50.68 L211.5,50.76 L212.36,50.84 L213.22,50.92 L214.08,50.99 L214.94,51.07 L215.8,51.15 L216.66,51.23 L217.52,51.31 L218.38,51.39 L219.24,51.47 L220.1,51.55 L220.95,51.63 L221.81,51.71 L222.67,51.79 L223.53,51.87 L224.39,51.95 L225.25,52.03 L226.11,52.11 L226.97,52.19 L227.83,52.27 L228.69,52.35 L229.55,52.43 L230.41,52.51 L231.27,52.59 L232.13,52.67 L232.98,52.75 L233.84,52.82 L234.7,52.9 L235.56,52.98 L236.42,53.06 L237.28,53.14 L238.14,53.22 L239,53.3" stroke="#fcb8b8" stroke-width="0.7" fill="none" />
<path d="M71.44,18.27 L72.3,18.22 L73.16,18.44 L74.02,18.84 L74.87,19.34 L75.73,19.85 L76.59,20.33 L77.45,20.85 L78.31,21.41 L79.17,22.01 L80.03,22.64 L80.89,23.3 L81.75,23.97 L82.61,24.66 L83.47,25.36 L84.33,26.06 L85.19,26.75 L86.05,27.44 L86.9,28.11 L87.76,28.76 L88.62,29.38 L89.48,29.96 L90.34,30.52 L91.2,31.06 L92.06,31.61 L92.92,32.16 L93.78,32.71 L94.64,33.26 L95.5,33.81 L96.36,34.36 L97.22,34.9 L98.08,35.44 L98.93,35.98 L99.79,36.52 L100.65,37.05 L101.51,37.58 L102.37,38.1 L103.23,38.61 L104.09,39.12 L104.95,39.62 L105.81,40.11 L106.67,40.59 L107.53,41.06 L108.39,41.52 L109.25,41.97 L110.11,42.41 L110.96,42.83 L111.82,43.25 L112.68,43.65 L113.54,44.03 L114.4,44.4 L115.26,44.76 L116.12,45.09 L116.98,45.41 L117.84,45.72 L118.7,46 L119.56,46.27 L120.42,46.52 L121.28,46.76 L122.14,47 L122.99,47.23 L123.85,47.47 L124.71,47.69 L125.57,47.91 L126.43,48.13 L127.29,48.35 L128.15,48.56 L129.01,48.76 L129.87,48.97 L130.73,49.17 L131.59,49.36 L132.45,49.55 L133.31,49.74 L134.17,49.93 L135.03,50.11 L135.88,50.28 L136.74,50.46 L137.6,50.63 L138.46,50.8 L139.32,50.96 L140.18,51.12 L141.04,51.28 L141.9,51.43 L142.76,51.58 L143.62,51.73 L144.48,51.87 L145.34,52.02 L146.2,52.15 L147.06,52.29 L147.91,52.42 L148.77,52.55 L149.63,52.68 L150.49,52.8 L151.35,52.92 L152.21,53.04 L153.07,53.16 L153.93,53.27 L154.79,53.38 L155.65,53.49 L156.51,53.6 L157.37,53.7 L158.23,53.8 L159.09,53.9 L159.94,53.99 L160.8,54.09 L161.66,54.18 L162.52,54.27 L163.38,54.35 L164.24,54.44 L165.1,54.52 L165.96,54.6 L166.82,54.68 L167.68,54.75 L168.54,54.83 L169.4,54.9 L170.26,54.97 L171.12,55.04 L171.97,55.11 L172.83,55.18 L173.69,55.24 L174.55,55.31 L175.41,55.37 L176.27,55.43 L177.13,55.5 L177.99,55.56 L178.85,55.62 L179.71,55.68 L180.57,55.73 L181.43,55.79 L182.29,55.85 L183.15,55.91 L184.01,55.96 L184.86,56.02 L185.72,56.08 L186.58,56.13 L187.44,56.19 L188.3,56.24 L189.16,56.3 L190.02,56.36 L190.88,56.41 L191.74,56.47 L192.6,56.53 L193.46,56.59 L194.32,56.65 L195.18,56.71 L196.04,56.77 L196.89,56.83 L197.75,56.89 L198.61,56.96 L199.47,57.02 L200.33,57.09 L201.19,57.15 L202.05,57.22 L202.91,57.29 L203.77,57.36 L204.63,57.44 L205.49,57.51 L206.35,57.58 L207.21,57.65 L208.07,57.73 L208.92,57.8 L209.78,57.87 L210.64,57.95 L211.5,58.02 L212.36,58.1 L213.22,58.18 L214.08,58.25 L214.94,58.33 L215.8,58.4 L216.66,58.48 L217.52,58.56 L218.38,58.63 L219.24,58.71 L220.1,58.79 L220.95,58.87 L221.81,58.95 L222.67,59.02 L223.53,59.1 L224.39,59.18 L225.25,59.26 L226.11,59.34 L226.97,59.41 L227.83,59.49 L228.69,59.57 L229.55,59.65 L230.41,59.73 L231.27,59.8 L232.13,59.88 L232.98,59.96 L233.84,60.04 L234.7,60.12 L235.56,60.19 L236.42,60.27 L237.28,60.35 L238.14,60.42 L239,60.5" stroke="#fcb8b8" stroke-width="0.7" fill="none" />
<path d="M61,148.3 L62.13,147.86 L63.25,147.4 L64.38,146.73 L65.5,145.59 L66.63,144.37 L67.75,143.03 L68.88,142.4 L70.01,142.17 L71.13,142.03 L72.26,142 L73.38,142 L74.51,142 L75.64,142 L76.76,142 L77.89,142 L79.01,142 L80.14,142 L81.26,142 L82.39,142 L83.52,142 L84.64,142 L85.77,142 L86.89,142 L88.02,142 L89.14,142 L90.27,142 L91.4,142 L92.52,142 L93.65,142 L94.77,142 L95.9,142 L97.03,142 L98.15,142 L99.28,142 L100.4,142 L101.53,142 L102.65,142 L103.78,142 L104.91,142 L106.03,142 L107.16,142 L108.28,142 L109.41,142 L110.53,142 L111.66,142 L112.79,142 L113.91,142 L115.04,142 L116.16,142 L117.29,142 L118.42,142 L119.54,142 L120.67,142 L121.79,142 L122.92,142 L124.04,142.01 L125.17,142.01 L126.3,142.01 L127.42,142.01 L128.55,142.01 L129.67,142.01 L130.8,142.01 L131.92,142.01 L133.05,142.01 L134.18,142.01 L135.3,142.01 L136.43,142.01 L137.55,142.01 L138.68,142.01 L139.81,142.01 L140.93,142.01 L142.06,142.02 L143.18,142.02 L144.31,142.02 L145.43,142.02 L146.56,142.02 L147.69,142.02 L148.81,142.02 L149.94,142.02 L151.06,142.02 L152.19,142.02 L153.31,142.02 L154.44,142.02 L155.57,142.03 L156.69,142.03 L157.82,142.03 L158.94,142.03 L160.07,142.03 L161.19,142.03 L162.32,142.03 L163.45,142.03 L164.57,142.03 L165.7,142.03 L166.82,142.03 L167.95,142.04 L169.08,142.04 L170.2,142.04 L171.33,142.04 L172.45,142.04 L173.58,142.04 L174.7,142.04 L175.83,142.04 L176.96,142.04 L178.08,142.04 L179.21,142.05 L180.33,142.05 L181.46,142.05 L182.58,142.05 L183.71,142.05 L184.84,142.05 L185.96,142.05 L187.09,142.05 L188.21,142.05 L189.34,142.06 L190.47,142.06 L191.59,142.06 L192.72,142.06 L193.84,142.06 L194.97,142.06 L196.09,142.06 L197.22,142.06 L198.35,142.06 L199.47,142.07 L200.6,142.07 L201.72,142.07 L202.85,142.07 L203.97,142.07 L205.1,142.07 L206.23,142.07 L207.35,142.07 L208.48,142.07 L209.6,142.07 L210.73,142.08 L211.86,142.08 L212.98,142.08 L214.11,142.08 L215.23,142.08 L216.36,142.08 L217.48,142.08 L218.61,142.08 L219.74,142.08 L220.86,142.08 L221.99,142.09 L223.11,142.09 L224.24,142.09 L225.36,142.09 L226.49,142.09 L227.62,142.09 L228.74,142.09 L229.87,142.09 L230.99,142.09 L232.12,142.09 L233.25,142.09 L234.37,142.1 L235.5,142.1 L236.62,142.1 L237.75,142.1 L238.87,142.1 L240,142.1 L240,144.6 L238.87,144.6 L237.75,144.6 L236.62,144.6 L235.5,144.6 L234.37,144.6 L233.25,144.59 L232.12,144.59 L230.99,144.59 L229.87,144.59 L228.74,144.59 L227.62,144.59 L226.49,144.59 L225.36,144.59 L224.24,144.59 L223.11,144.59 L221.99,144.59 L220.86,144.58 L219.74,144.58 L218.61,144.58 L217.48,144.58 L216.36,144.58 L215.23,144.58 L214.11,144.58 L212.98,144.58 L211.86,144.58 L210.73,144.58 L209.6,144.57 L208.48,144.57 L207.35,144.57 L206.23,144.57 L205.1,144.57 L203.97,144.57 L202.85,144.57 L201.72,144.57 L200.6,144.57 L199.47,144.57 L198.35,144.56 L197.22,144.56 L196.09,144.56 L194.97,144.56 L193.84,144.56 L192.72,144.56 L191.59,144.56 L190.47,144.56 L189.34,144.56 L188.21,144.55 L187.09,144.55 L185.96,144.55 L184.84,144.55 L183.71,144.55 L182.58,144.55 L181.46,144.55 L180.33,144.55 L179.21,144.55 L178.08,144.54 L176.96,144.54 L175.83,144.54 L174.7,144.54 L173.58,144.54 L172.45,144.54 L171.33,144.54 L170.2,144.54 L169.08,144.54 L167.95,144.54 L166.82,144.53 L165.7,144.53 L164.57,144.53 L163.45,144.53 L162.32,144.53 L161.19,144.53 L160.07,144.53 L158.94,144.53 L157.82,144.53 L156.69,144.53 L155.57,144.53 L154.44,144.52 L153.31,144.52 L152.19,144.52 L151.06,144.52 L149.94,144.52 L148.81,144.52 L147.69,144.52 L146.56,144.52 L145.43,144.52 L144.31,144.52 L143.18,144.52 L142.06,144.52 L140.93,144.51 L139.81,144.51 L138.68,144.51 L137.55,144.51 L136.43,144.51 L135.3,144.51 L134.18,144.51 L133.05,144.51 L131.92,144.51 L130.8,144.51 L129.67,144.51 L128.55,144.51 L127.42,144.51 L126.3,144.51 L125.17,144.51 L124.04,144.51 L122.92,144.5 L121.79,144.5 L120.67,144.5 L119.54,144.5 L118.42,144.5 L117.29,144.5 L116.16,144.5 L115.04,144.5 L113.91,144.5 L112.79,144.5 L111.66,144.5 L110.53,144.5 L109.41,144.5 L108.28,144.5 L107.16,144.5 L106.03,144.5 L104.91,144.5 L103.78,144.5 L102.65,144.5 L101.53,144.5 L100.4,144.5 L99.28,144.5 L98.15,144.5 L97.03,144.5 L95.9,144.5 L94.77,144.5 L93.65,144.5 L92.52,144.5 L91.4,144.5 L90.27,144.5 L89.14,144.5 L88.02,144.5 L86.89,144.5 L85.77,144.5 L84.64,144.5 L83.52,144.5 L82.39,144.5 L81.26,144.5 L80.14,144.5 L79.01,144.5 L77.89,144.5 L76.76,144.5 L75.64,144.5 L74.51,144.5 L73.38,144.5 L72.26,144.5 L71.13,144.53 L70.01,144.67 L68.88,144.9 L67.75,145.53 L66.63,146.87 L65.5,148.09 L64.38,149.23 L63.25,149.9 L62.13,150.36 L61,150.8Z" fill="#dde9fb" stroke="none"/>
<path d="M61,147.5 L62.13,146.89 L63.25,146.25 L64.38,145.31 L65.5,143.68 L66.63,142.03 L67.75,140.48 L68.88,139.8 L70.01,139.57 L71.13,139.43 L72.26,139.4 L73.38,139.4 L74.51,139.4 L75.64,139.4 L76.76,139.4 L77.89,139.4 L79.01,139.4 L80.14,139.4 L81.26,139.4 L82.39,139.4 L83.52,139.4 L84.64,139.4 L85.77,139.4 L86.89,139.4 L88.02,139.4 L89.14,139.4 L90.27,139.4 L91.4,139.4 L92.52,139.4 L93.65,139.4 L94.77,139.4 L95.9,139.4 L97.03,139.4 L98.15,139.4 L99.28,139.4 L100.4,139.4 L101.53,139.4 L102.65,139.4 L103.78,139.4 L104.91,139.4 L106.03,139.4 L107.16,139.4 L108.28,139.4 L109.41,139.4 L110.53,139.4 L111.66,139.4 L112.79,139.4 L113.91,139.4 L115.04,139.4 L116.16,139.4 L117.29,139.4 L118.42,139.4 L119.54,139.4 L120.67,139.4 L121.79,139.4 L122.92,139.4 L124.04,139.41 L125.17,139.41 L126.3,139.41 L127.42,139.41 L128.55,139.41 L129.67,139.41 L130.8,139.41 L131.92,139.41 L133.05,139.41 L134.18,139.41 L135.3,139.41 L136.43,139.41 L137.55,139.41 L138.68,139.41 L139.81,139.41 L140.93,139.41 L142.06,139.42 L143.18,139.42 L144.31,139.42 L145.43,139.42 L146.56,139.42 L147.69,139.42 L148.81,139.42 L149.94,139.42 L151.06,139.42 L152.19,139.42 L153.31,139.42 L154.44,139.42 L155.57,139.43 L156.69,139.43 L157.82,139.43 L158.94,139.43 L160.07,139.43 L161.19,139.43 L162.32,139.43 L163.45,139.43 L164.57,139.43 L165.7,139.43 L166.82,139.43 L167.95,139.44 L169.08,139.44 L170.2,139.44 L171.33,139.44 L172.45,139.44 L173.58,139.44 L174.7,139.44 L175.83,139.44 L176.96,139.44 L178.08,139.44 L179.21,139.45 L180.33,139.45 L181.46,139.45 L182.58,139.45 L183.71,139.45 L184.84,139.45 L185.96,139.45 L187.09,139.45 L188.21,139.45 L189.34,139.46 L190.47,139.46 L191.59,139.46 L192.72,139.46 L193.84,139.46 L194.97,139.46 L196.09,139.46 L197.22,139.46 L198.35,139.46 L199.47,139.47 L200.6,139.47 L201.72,139.47 L202.85,139.47 L203.97,139.47 L205.1,139.47 L206.23,139.47 L207.35,139.47 L208.48,139.47 L209.6,139.47 L210.73,139.48 L211.86,139.48 L212.98,139.48 L214.11,139.48 L215.23,139.48 L216.36,139.48 L217.48,139.48 L218.61,139.48 L219.74,139.48 L220.86,139.48 L221.99,139.49 L223.11,139.49 L224.24,139.49 L225.36,139.49 L226.49,139.49 L227.62,139.49 L228.74,139.49 L229.87,139.49 L230.99,139.49 L232.12,139.49 L233.25,139.49 L234.37,139.5 L235.5,139.5 L236.62,139.5 L237.75,139.5 L238.87,139.5 L240,139.5 L240,141.6 L238.87,141.6 L237.75,141.6 L236.62,141.6 L235.5,141.6 L234.37,141.6 L233.25,141.59 L232.12,141.59 L230.99,141.59 L229.87,141.59 L228.74,141.59 L227.62,141.59 L226.49,141.59 L225.36,141.59 L224.24,141.59 L223.11,141.59 L221.99,141.59 L220.86,141.58 L219.74,141.58 L218.61,141.58 L217.48,141.58 L216.36,141.58 L215.23,141.58 L214.11,141.58 L212.98,141.58 L211.86,141.58 L210.73,141.58 L209.6,141.57 L208.48,141.57 L207.35,141.57 L206.23,141.57 L205.1,141.57 L203.97,141.57 L202.85,141.57 L201.72,141.57 L200.6,141.57 L199.47,141.57 L198.35,141.56 L197.22,141.56 L196.09,141.56 L194.97,141.56 L193.84,141.56 L192.72,141.56 L191.59,141.56 L190.47,141.56 L189.34,141.56 L188.21,141.55 L187.09,141.55 L185.96,141.55 L184.84,141.55 L183.71,141.55 L182.58,141.55 L181.46,141.55 L180.33,141.55 L179.21,141.55 L178.08,141.54 L176.96,141.54 L175.83,141.54 L174.7,141.54 L173.58,141.54 L172.45,141.54 L171.33,141.54 L170.2,141.54 L169.08,141.54 L167.95,141.54 L166.82,141.53 L165.7,141.53 L164.57,141.53 L163.45,141.53 L162.32,141.53 L161.19,141.53 L160.07,141.53 L158.94,141.53 L157.82,141.53 L156.69,141.53 L155.57,141.53 L154.44,141.52 L153.31,141.52 L152.19,141.52 L151.06,141.52 L149.94,141.52 L148.81,141.52 L147.69,141.52 L146.56,141.52 L145.43,141.52 L144.31,141.52 L143.18,141.52 L142.06,141.52 L140.93,141.51 L139.81,141.51 L138.68,141.51 L137.55,141.51 L136.43,141.51 L135.3,141.51 L134.18,141.51 L133.05,141.51 L131.92,141.51 L130.8,141.51 L129.67,141.51 L128.55,141.51 L127.42,141.51 L126.3,141.51 L125.17,141.51 L124.04,141.51 L122.92,141.5 L121.79,141.5 L120.67,141.5 L119.54,141.5 L118.42,141.5 L117.29,141.5 L116.16,141.5 L115.04,141.5 L113.91,141.5 L112.79,141.5 L111.66,141.5 L110.53,141.5 L109.41,141.5 L108.28,141.5 L107.16,141.5 L106.03,141.5 L104.91,141.5 L103.78,141.5 L102.65,141.5 L101.53,141.5 L100.4,141.5 L99.28,141.5 L98.15,141.5 L97.03,141.5 L95.9,141.5 L94.77,141.5 L93.65,141.5 L92.52,141.5 L91.4,141.5 L90.27,141.5 L89.14,141.5 L88.02,141.5 L86.89,141.5 L85.77,141.5 L84.64,141.5 L83.52,141.5 L82.39,141.5 L81.26,141.5 L80.14,141.5 L79.01,141.5 L77.89,141.5 L76.76,141.5 L75.64,141.5 L74.51,141.5 L73.38,141.5 L72.26,141.5 L71.13,141.53 L70.01,141.67 L68.88,141.9 L67.75,142.58 L66.63,144.13 L65.5,145.78 L64.38,147.41 L63.25,148.35 L62.13,148.99 L61,149.6Z" fill="#fde3e3" stroke="none"/>
<path d="M61,150.7 L62.13,150.26 L63.25,149.8 L64.38,149.13 L65.5,147.99 L66.63,146.77 L67.75,145.43 L68.88,144.8 L70.01,144.57 L71.13,144.43 L72.26,144.4 L73.38,144.4 L74.51,144.4 L75.64,144.4 L76.76,144.4 L77.89,144.4 L79.01,144.4 L80.14,144.4 L81.26,144.4 L82.39,144.4 L83.52,144.4 L84.64,144.4 L85.77,144.4 L86.89,144.4 L88.02,144.4 L89.14,144.4 L90.27,144.4 L91.4,144.4 L92.52,144.4 L93.65,144.4 L94.77,144.4 L95.9,144.4 L97.03,144.4 L98.15,144.4 L99.28,144.4 L100.4,144.4 L101.53,144.4 L102.65,144.4 L103.78,144.4 L104.91,144.4 L106.03,144.4 L107.16,144.4 L108.28,144.4 L109.41,144.4 L110.53,144.4 L111.66,144.4 L112.79,144.4 L113.91,144.4 L115.04,144.4 L116.16,144.4 L117.29,144.4 L118.42,144.4 L119.54,144.4 L120.67,144.4 L121.79,144.4 L122.92,144.4 L124.04,144.41 L125.17,144.41 L126.3,144.41 L127.42,144.41 L128.55,144.41 L129.67,144.41 L130.8,144.41 L131.92,144.41 L133.05,144.41 L134.18,144.41 L135.3,144.41 L136.43,144.41 L137.55,144.41 L138.68,144.41 L139.81,144.41 L140.93,144.41 L142.06,144.42 L143.18,144.42 L144.31,144.42 L145.43,144.42 L146.56,144.42 L147.69,144.42 L148.81,144.42 L149.94,144.42 L151.06,144.42 L152.19,144.42 L153.31,144.42 L154.44,144.42 L155.57,144.43 L156.69,144.43 L157.82,144.43 L158.94,144.43 L160.07,144.43 L161.19,144.43 L162.32,144.43 L163.45,144.43 L164.57,144.43 L165.7,144.43 L166.82,144.43 L167.95,144.44 L169.08,144.44 L170.2,144.44 L171.33,144.44 L172.45,144.44 L173.58,144.44 L174.7,144.44 L175.83,144.44 L176.96,144.44 L178.08,144.44 L179.21,144.45 L180.33,144.45 L181.46,144.45 L182.58,144.45 L183.71,144.45 L184.84,144.45 L185.96,144.45 L187.09,144.45 L188.21,144.45 L189.34,144.46 L190.47,144.46 L191.59,144.46 L192.72,144.46 L193.84,144.46 L194.97,144.46 L196.09,144.46 L197.22,144.46 L198.35,144.46 L199.47,144.47 L200.6,144.47 L201.72,144.47 L202.85,144.47 L203.97,144.47 L205.1,144.47 L206.23,144.47 L207.35,144.47 L208.48,144.47 L209.6,144.47 L210.73,144.48 L211.86,144.48 L212.98,144.48 L214.11,144.48 L215.23,144.48 L216.36,144.48 L217.48,144.48 L218.61,144.48 L219.74,144.48 L220.86,144.48 L221.99,144.49 L223.11,144.49 L224.24,144.49 L225.36,144.49 L226.49,144.49 L227.62,144.49 L228.74,144.49 L229.87,144.49 L230.99,144.49 L232.12,144.49 L233.25,144.49 L234.37,144.5 L235.5,144.5 L236.62,144.5 L237.75,144.5 L238.87,144.5 L240,144.5" stroke="#7fb2f0" stroke-width="1" fill="none" />
<path d="M61,148.8 L62.13,148.19 L63.25,147.55 L64.38,146.61 L65.5,144.98 L66.63,143.33 L67.75,141.78 L68.88,141.1 L70.01,140.87 L71.13,140.73 L72.26,140.7 L73.38,140.7 L74.51,140.7 L75.64,140.7 L76.76,140.7 L77.89,140.7 L79.01,140.7 L80.14,140.7 L81.26,140.7 L82.39,140.7 L83.52,140.7 L84.64,140.7 L85.77,140.7 L86.89,140.7 L88.02,140.7 L89.14,140.7 L90.27,140.7 L91.4,140.7 L92.52,140.7 L93.65,140.7 L94.77,140.7 L95.9,140.7 L97.03,140.7 L98.15,140.7 L99.28,140.7 L100.4,140.7 L101.53,140.7 L102.65,140.7 L103.78,140.7 L104.91,140.7 L106.03,140.7 L107.16,140.7 L108.28,140.7 L109.41,140.7 L110.53,140.7 L111.66,140.7 L112.79,140.7 L113.91,140.7 L115.04,140.7 L116.16,140.7 L117.29,140.7 L118.42,140.7 L119.54,140.7 L120.67,140.7 L121.79,140.7 L122.92,140.7 L124.04,140.71 L125.17,140.71 L126.3,140.71 L127.42,140.71 L128.55,140.71 L129.67,140.71 L130.8,140.71 L131.92,140.71 L133.05,140.71 L134.18,140.71 L135.3,140.71 L136.43,140.71 L137.55,140.71 L138.68,140.71 L139.81,140.71 L140.93,140.71 L142.06,140.72 L143.18,140.72 L144.31,140.72 L145.43,140.72 L146.56,140.72 L147.69,140.72 L148.81,140.72 L149.94,140.72 L151.06,140.72 L152.19,140.72 L153.31,140.72 L154.44,140.72 L155.57,140.73 L156.69,140.73 L157.82,140.73 L158.94,140.73 L160.07,140.73 L161.19,140.73 L162.32,140.73 L163.45,140.73 L164.57,140.73 L165.7,140.73 L166.82,140.73 L167.95,140.74 L169.08,140.74 L170.2,140.74 L171.33,140.74 L172.45,140.74 L173.58,140.74 L174.7,140.74 L175.83,140.74 L176.96,140.74 L178.08,140.74 L179.21,140.75 L180.33,140.75 L181.46,140.75 L182.58,140.75 L183.71,140.75 L184.84,140.75 L185.96,140.75 L187.09,140.75 L188.21,140.75 L189.34,140.76 L190.47,140.76 L191.59,140.76 L192.72,140.76 L193.84,140.76 L194.97,140.76 L196.09,140.76 L197.22,140.76 L198.35,140.76 L199.47,140.77 L200.6,140.77 L201.72,140.77 L202.85,140.77 L203.97,140.77 L205.1,140.77 L206.23,140.77 L207.35,140.77 L208.48,140.77 L209.6,140.77 L210.73,140.78 L211.86,140.78 L212.98,140.78 L214.11,140.78 L215.23,140.78 L216.36,140.78 L217.48,140.78 L218.61,140.78 L219.74,140.78 L220.86,140.78 L221.99,140.79 L223.11,140.79 L224.24,140.79 L225.36,140.79 L226.49,140.79 L227.62,140.79 L228.74,140.79 L229.87,140.79 L230.99,140.79 L232.12,140.79 L233.25,140.79 L234.37,140.8 L235.5,140.8 L236.62,140.8 L237.75,140.8 L238.87,140.8 L240,140.8" stroke="#f46a6a" stroke-width="1.1" fill="none" />
<path d="M61,148.8 L62.13,148.36 L63.25,147.9 L64.38,147.23 L65.5,146.09 L66.63,144.87 L67.75,143.53 L68.88,142.9 L70.01,142.67 L71.13,142.53 L72.26,142.5 L73.38,142.5 L74.51,142.5 L75.64,142.5 L76.76,142.5 L77.89,142.5 L79.01,142.5 L80.14,142.5 L81.26,142.5 L82.39,142.5 L83.52,142.5 L84.64,142.5 L85.77,142.5 L86.89,142.5 L88.02,142.5 L89.14,142.5 L90.27,142.5 L91.4,142.5 L92.52,142.5 L93.65,142.5 L94.77,142.5 L95.9,142.5 L97.03,142.5 L98.15,142.5 L99.28,142.5 L100.4,142.5 L101.53,142.5 L102.65,142.5 L103.78,142.5 L104.91,142.5 L106.03,142.5 L107.16,142.5 L108.28,142.5 L109.41,142.5 L110.53,142.5 L111.66,142.5 L112.79,142.5 L113.91,142.5 L115.04,142.5 L116.16,142.5 L117.29,142.5 L118.42,142.5 L119.54,142.5 L120.67,142.5 L121.79,142.5 L122.92,142.5 L124.04,142.51 L125.17,142.51 L126.3,142.51 L127.42,142.51 L128.55,142.51 L129.67,142.51 L130.8,142.51 L131.92,142.51 L133.05,142.51 L134.18,142.51 L135.3,142.51 L136.43,142.51 L137.55,142.51 L138.68,142.51 L139.81,142.51 L140.93,142.51 L142.06,142.52 L143.18,142.52 L144.31,142.52 L145.43,142.52 L146.56,142.52 L147.69,142.52 L148.81,142.52 L149.94,142.52 L151.06,142.52 L152.19,142.52 L153.31,142.52 L154.44,142.52 L155.57,142.53 L156.69,142.53 L157.82,142.53 L158.94,142.53 L160.07,142.53 L161.19,142.53 L162.32,142.53 L163.45,142.53 L164.57,142.53 L165.7,142.53 L166.82,142.53 L167.95,142.54 L169.08,142.54 L170.2,142.54 L171.33,142.54 L172.45,142.54 L173.58,142.54 L174.7,142.54 L175.83,142.54 L176.96,142.54 L178.08,142.54 L179.21,142.55 L180.33,142.55 L181.46,142.55 L182.58,142.55 L183.71,142.55 L184.84,142.55 L185.96,142.55 L187.09,142.55 L188.21,142.55 L189.34,142.56 L190.47,142.56 L191.59,142.56 L192.72,142.56 L193.84,142.56 L194.97,142.56 L196.09,142.56 L197.22,142.56 L198.35,142.56 L199.47,142.57 L200.6,142.57 L201.72,142.57 L202.85,142.57 L203.97,142.57 L205.1,142.57 L206.23,142.57 L207.35,142.57 L208.48,142.57 L209.6,142.57 L210.73,142.58 L211.86,142.58 L212.98,142.58 L214.11,142.58 L215.23,142.58 L216.36,142.58 L217.48,142.58 L218.61,142.58 L219.74,142.58 L220.86,142.58 L221.99,142.59 L223.11,142.59 L224.24,142.59 L225.36,142.59 L226.49,142.59 L227.62,142.59 L228.74,142.59 L229.87,142.59 L230.99,142.59 L232.12,142.59 L233.25,142.59 L234.37,142.6 L235.5,142.6 L236.62,142.6 L237.75,142.6 L238.87,142.6 L240,142.6" stroke="#4a8fea" stroke-width="1.1" fill="none" />
<path d="M66,65 L66.54,47.9 L67.08,36.44 L67.62,27.91 L68.16,22.95 L68.7,19.26 L69.24,17.12 L69.78,16.21 L70.32,15.49 L70.86,15.01 L71.4,14.81 L71.94,14.82 L72.48,14.88 L73.02,14.99 L73.56,15.13 L74.1,15.29 L74.64,15.47 L75.18,15.67 L75.72,15.94 L76.26,16.3 L76.8,16.74 L77.34,17.23 L77.88,17.75 L78.42,18.29 L78.96,18.83 L79.5,19.35 L80.04,19.83 L80.57,20.3 L81.11,20.78 L81.65,21.27 L82.19,21.77 L82.73,22.28 L83.27,22.78 L83.81,23.29 L84.35,23.8 L84.89,24.31 L85.43,24.81 L85.97,25.3 L86.51,25.79 L87.05,26.27 L87.59,26.73 L88.13,27.18 L88.67,27.62 L89.21,28.03 L89.75,28.43 L90.29,28.8 L90.83,29.17 L91.37,29.52 L91.91,29.87 L92.45,30.21 L92.99,30.55 L93.53,30.87 L94.07,31.19 L94.61,31.51 L95.15,31.81 L95.69,32.11 L96.23,32.4 L96.77,32.69 L97.31,32.97 L97.85,33.25 L98.39,33.52 L98.93,33.79 L99.47,34.05 L100.01,34.3 L100.55,34.55 L101.09,34.8 L101.63,35.04 L102.17,35.28 L102.71,35.51 L103.25,35.73 L103.79,35.96 L104.33,36.18 L104.87,36.39 L105.41,36.6 L105.95,36.81 L106.49,37.02 L107.03,37.22 L107.57,37.42 L108.11,37.62 L108.65,37.81 L109.18,38.01 L109.72,38.2 L110.26,38.39 L110.8,38.58 L111.34,38.77 L111.88,38.96 L112.42,39.15 L112.96,39.33 L113.5,39.52 L114.04,39.7 L114.58,39.88 L115.12,40.05 L115.66,40.22 L116.2,40.4 L116.74,40.56 L117.28,40.73 L117.82,40.89 L118.36,41.05 L118.9,41.2 L119.44,41.35 L119.98,41.49 L120.52,41.64 L121.06,41.78 L121.6,41.93 L122.14,42.07 L122.68,42.21 L123.22,42.35 L123.76,42.5 L124.3,42.64 L124.84,42.78 L125.38,42.92 L125.92,43.06 L126.46,43.2 L127,43.34 L127.54,43.48 L128.08,43.62 L128.62,43.76 L129.16,43.89 L129.7,44.03 L130.24,44.17 L130.78,44.3 L131.32,44.44 L131.86,44.57 L132.4,44.71 L132.94,44.84 L133.48,44.97 L134.02,45.1 L134.56,45.23 L135.1,45.36 L135.64,45.49 L136.18,45.62 L136.72,45.75 L137.26,45.87 L137.79,46 L138.33,46.12 L138.87,46.25 L139.41,46.37 L139.95,46.49 L140.49,46.61 L141.03,46.73 L141.57,46.85 L142.11,46.96 L142.65,47.08 L143.19,47.19 L143.73,47.31 L144.27,47.42 L144.81,47.53 L145.35,47.64 L145.89,47.75 L146.43,47.85 L146.97,47.96 L147.51,48.06 L148.05,48.16 L148.59,48.26 L149.13,48.36 L149.67,48.46 L150.21,48.56 L150.75,48.65 L151.29,48.74 L151.83,48.83 L152.37,48.92 L152.91,49.01 L153.45,49.1 L153.99,49.18 L154.53,49.27 L155.07,49.35 L155.61,49.43 L156.15,49.5 L156.69,49.58 L157.23,49.65 L157.77,49.72 L158.31,49.79 L158.85,49.86 L159.39,49.93 L159.93,49.99 L160.47,50.05 L161.01,50.11 L161.55,50.17 L162.09,50.23 L162.63,50.29 L163.17,50.35 L163.71,50.4 L164.25,50.46 L164.79,50.51 L165.33,50.56 L165.87,50.62 L166.41,50.67 L166.94,50.72 L167.48,50.77 L168.02,50.81 L168.56,50.86 L169.1,50.91 L169.64,50.95 L170.18,51 L170.72,51.04 L171.26,51.09 L171.8,51.13 L172.34,51.17 L172.88,51.22 L173.42,51.26 L173.96,51.3 L174.5,51.34 L175.04,51.38 L175.58,51.42 L176.12,51.46 L176.66,51.5 L177.2,51.53 L177.74,51.57 L178.28,51.61 L178.82,51.65 L179.36,51.68 L179.9,51.72 L180.44,51.76 L180.98,51.79 L181.52,51.83 L182.06,51.87 L182.6,51.9 L183.14,51.94 L183.68,51.97 L184.22,52.01 L184.76,52.04 L185.3,52.08 L185.84,52.11 L186.38,52.15 L186.92,52.18 L187.46,52.22 L188,52.26 L188.54,52.29 L189.08,52.33 L189.62,52.36 L190.16,52.4 L190.7,52.44 L191.24,52.48 L191.78,52.51 L192.32,52.55 L192.86,52.59 L193.4,52.63 L193.94,52.67 L194.48,52.7 L195.02,52.74 L195.55,52.78 L196.09,52.82 L196.63,52.87 L197.17,52.91 L197.71,52.95 L198.25,52.99 L198.79,53.04 L199.33,53.08 L199.87,53.13 L200.41,53.17 L200.95,53.22 L201.49,53.26 L202.03,53.31 L202.57,53.36 L203.11,53.41 L203.65,53.46 L204.19,53.51 L204.73,53.56 L205.27,53.61 L205.81,53.67 L206.35,53.72 L206.89,53.77 L207.43,53.83 L207.97,53.88 L208.51,53.93 L209.05,53.99 L209.59,54.04 L210.13,54.1 L210.67,54.15 L211.21,54.21 L211.75,54.27 L212.29,54.33 L212.83,54.38 L213.37,54.44 L213.91,54.5 L214.45,54.56 L214.99,54.62 L215.53,54.67 L216.07,54.73 L216.61,54.79 L217.15,54.85 L217.69,54.91 L218.23,54.97 L218.77,55.03 L219.31,55.09 L219.85,55.15 L220.39,55.21 L220.93,55.28 L221.47,55.34 L222.01,55.4 L222.55,55.46 L223.09,55.52 L223.63,55.58 L224.16,55.64 L224.7,55.71 L225.24,55.77 L225.78,55.83 L226.32,55.89 L226.86,55.95 L227.4,56.02 L227.94,56.08 L228.48,56.14 L229.02,56.2 L229.56,56.27 L230.1,56.33 L230.64,56.39 L231.18,56.45 L231.72,56.51 L232.26,56.57 L232.8,56.64 L233.34,56.7 L233.88,56.76 L234.42,56.82 L234.96,56.88 L235.5,56.94 L236.04,57 L236.58,57.07 L237.12,57.13 L237.66,57.19 L238.2,57.25" stroke="#ff0000" stroke-width="3.9" fill="none" stroke-linecap="round" stroke-linejoin="round"/>
<path d="M66.8,65 L67.34,51.65 L67.87,45.35 L68.41,41.56 L68.95,39.61 L69.49,38.53 L70.02,37.79 L70.56,37.24 L71.1,36.73 L71.64,36.38 L72.17,36.3 L72.71,36.38 L73.25,36.52 L73.78,36.71 L74.32,36.92 L74.86,37.14 L75.4,37.37 L75.93,37.62 L76.47,37.91 L77.01,38.22 L77.55,38.55 L78.08,38.9 L78.62,39.26 L79.16,39.63 L79.7,39.99 L80.23,40.36 L80.77,40.74 L81.31,41.13 L81.84,41.54 L82.38,41.96 L82.92,42.39 L83.46,42.81 L83.99,43.23 L84.53,43.65 L85.07,44.05 L85.61,44.45 L86.14,44.86 L86.68,45.27 L87.22,45.68 L87.75,46.08 L88.29,46.47 L88.83,46.85 L89.37,47.21 L89.9,47.54 L90.44,47.86 L90.98,48.16 L91.52,48.46 L92.05,48.75 L92.59,49.03 L93.13,49.31 L93.67,49.58 L94.2,49.84 L94.74,50.1 L95.28,50.35 L95.81,50.6 L96.35,50.84 L96.89,51.08 L97.43,51.32 L97.96,51.55 L98.5,51.78 L99.04,52 L99.58,52.22 L100.11,52.45 L100.65,52.66 L101.19,52.88 L101.72,53.09 L102.26,53.29 L102.8,53.49 L103.34,53.69 L103.87,53.88 L104.41,54.08 L104.95,54.27 L105.49,54.45 L106.02,54.64 L106.56,54.82 L107.1,55.01 L107.64,55.19 L108.17,55.38 L108.71,55.56 L109.25,55.74 L109.78,55.93 L110.32,56.11 L110.86,56.3 L111.4,56.49 L111.93,56.68 L112.47,56.87 L113.01,57.06 L113.55,57.25 L114.08,57.44 L114.62,57.63 L115.16,57.82 L115.69,58 L116.23,58.18 L116.77,58.36 L117.31,58.53 L117.84,58.69 L118.38,58.85 L118.92,59.01 L119.46,59.16 L119.99,59.3 L120.53,59.43 L121.07,59.57 L121.61,59.71 L122.14,59.84 L122.68,59.97 L123.22,60.11 L123.75,60.24 L124.29,60.37 L124.83,60.5 L125.37,60.63 L125.9,60.76 L126.44,60.89 L126.98,61.02 L127.52,61.14 L128.05,61.27 L128.59,61.4 L129.13,61.52 L129.66,61.64 L130.2,61.77 L130.74,61.89 L131.28,62.01 L131.81,62.13 L132.35,62.25 L132.89,62.37 L133.43,62.48 L133.96,62.6 L134.5,62.71 L135.04,62.83 L135.57,62.94 L136.11,63.05 L136.65,63.17 L137.19,63.28 L137.72,63.38 L138.26,63.49 L138.8,63.6 L139.34,63.71 L139.87,63.81 L140.41,63.92 L140.95,64.02 L141.49,64.12 L142.02,64.22 L142.56,64.32 L143.1,64.42 L143.63,64.52 L144.17,64.61 L144.71,64.71 L145.25,64.8 L145.78,64.9 L146.32,64.99 L146.86,65.08 L147.4,65.17 L147.93,65.26 L148.47,65.34 L149.01,65.43 L149.54,65.51 L150.08,65.6 L150.62,65.68 L151.16,65.76 L151.69,65.84 L152.23,65.92 L152.77,66 L153.31,66.07 L153.84,66.15 L154.38,66.22 L154.92,66.29 L155.46,66.36 L155.99,66.43 L156.53,66.5 L157.07,66.56 L157.6,66.63 L158.14,66.69 L158.68,66.75 L159.22,66.81 L159.75,66.87 L160.29,66.93 L160.83,66.99 L161.37,67.04 L161.9,67.1 L162.44,67.15 L162.98,67.21 L163.51,67.26 L164.05,67.31 L164.59,67.36 L165.13,67.41 L165.66,67.46 L166.2,67.51 L166.74,67.55 L167.28,67.6 L167.81,67.65 L168.35,67.69 L168.89,67.74 L169.43,67.78 L169.96,67.82 L170.5,67.87 L171.04,67.91 L171.57,67.95 L172.11,67.99 L172.65,68.03 L173.19,68.07 L173.72,68.11 L174.26,68.15 L174.8,68.19 L175.34,68.23 L175.87,68.27 L176.41,68.3 L176.95,68.34 L177.48,68.38 L178.02,68.41 L178.56,68.45 L179.1,68.49 L179.63,68.52 L180.17,68.56 L180.71,68.59 L181.25,68.63 L181.78,68.66 L182.32,68.7 L182.86,68.73 L183.39,68.76 L183.93,68.8 L184.47,68.83 L185.01,68.87 L185.54,68.9 L186.08,68.93 L186.62,68.97 L187.16,69 L187.69,69.04 L188.23,69.07 L188.77,69.1 L189.31,69.14 L189.84,69.17 L190.38,69.21 L190.92,69.24 L191.45,69.28 L191.99,69.31 L192.53,69.35 L193.07,69.38 L193.6,69.42 L194.14,69.45 L194.68,69.49 L195.22,69.53 L195.75,69.56 L196.29,69.6 L196.83,69.64 L197.36,69.67 L197.9,69.71 L198.44,69.75 L198.98,69.79 L199.51,69.83 L200.05,69.87 L200.59,69.91 L201.13,69.95 L201.66,69.99 L202.2,70.04 L202.74,70.08 L203.28,70.12 L203.81,70.17 L204.35,70.21 L204.89,70.25 L205.42,70.3 L205.96,70.34 L206.5,70.39 L207.04,70.43 L207.57,70.48 L208.11,70.52 L208.65,70.57 L209.19,70.61 L209.72,70.66 L210.26,70.7 L210.8,70.75 L211.33,70.8 L211.87,70.84 L212.41,70.89 L212.95,70.94 L213.48,70.98 L214.02,71.03 L214.56,71.08 L215.1,71.12 L215.63,71.17 L216.17,71.22 L216.71,71.27 L217.25,71.31 L217.78,71.36 L218.32,71.41 L218.86,71.46 L219.39,71.51 L219.93,71.55 L220.47,71.6 L221.01,71.65 L221.54,71.7 L222.08,71.75 L222.62,71.79 L223.16,71.84 L223.69,71.89 L224.23,71.94 L224.77,71.99 L225.3,72.04 L225.84,72.08 L226.38,72.13 L226.92,72.18 L227.45,72.23 L227.99,72.28 L228.53,72.33 L229.07,72.38 L229.6,72.42 L230.14,72.47 L230.68,72.52 L231.22,72.57 L231.75,72.62 L232.29,72.67 L232.83,72.72 L233.36,72.76 L233.9,72.81 L234.44,72.86 L234.98,72.91 L235.51,72.96 L236.05,73.01 L236.59,73.05 L237.13,73.1 L237.66,73.15 L238.2,73.2" stroke="#157af6" stroke-width="3.9" fill="none" stroke-linecap="round" stroke-linejoin="round"/>
<rect x="63.24" y="145.7" width="3.6" height="3.6" fill="#ff0000" stroke="none" stroke-width="0" />
<rect x="63.32" y="142.3" width="3.6" height="3.6" fill="#ff0000" stroke="none" stroke-width="0" />
<rect x="63.4" y="139.2" width="3.6" height="3.6" fill="#ff0000" stroke="none" stroke-width="0" />
<rect x="63.5" y="135.3" width="3.6" height="3.6" fill="#ff0000" stroke="none" stroke-width="0" />
<rect x="63.63" y="129.9" width="3.6" height="3.6" fill="#ff0000" stroke="none" stroke-width="0" />
<rect x="63.78" y="124" width="3.6" height="3.6" fill="#ff0000" stroke="none" stroke-width="0" />
<rect x="63.89" y="118" width="3.6" height="3.6" fill="#ff0000" stroke="none" stroke-width="0" />
<rect x="63.97" y="112.7" width="3.6" height="3.6" fill="#ff0000" stroke="none" stroke-width="0" />
<rect x="64.08" y="106.6" width="3.6" height="3.6" fill="#ff0000" stroke="none" stroke-width="0" />
<rect x="64.17" y="101.2" width="3.6" height="3.6" fill="#ff0000" stroke="none" stroke-width="0" />
<rect x="64.26" y="95.5" width="3.6" height="3.6" fill="#ff0000" stroke="none" stroke-width="0" />
<rect x="64.36" y="89.9" width="3.6" height="3.6" fill="#ff0000" stroke="none" stroke-width="0" />
<rect x="64.44" y="85" width="3.6" height="3.6" fill="#ff0000" stroke="none" stroke-width="0" />
<rect x="64.51" y="80.8" width="3.6" height="3.6" fill="#ff0000" stroke="none" stroke-width="0" />
<rect x="64.58" y="76.5" width="3.6" height="3.6" fill="#ff0000" stroke="none" stroke-width="0" />
<rect x="64.65" y="72.2" width="3.6" height="3.6" fill="#ff0000" stroke="none" stroke-width="0" />
<rect x="64.72" y="68" width="3.6" height="3.6" fill="#ff0000" stroke="none" stroke-width="0" />
<circle cx="65.28" cy="146" r="2.0" fill="#157af6"/>
<circle cx="65.37" cy="142.3" r="2.0" fill="#157af6"/>
<circle cx="65.45" cy="139" r="2.0" fill="#157af6"/>
<circle cx="65.54" cy="135.3" r="2.0" fill="#157af6"/>
<circle cx="65.68" cy="129.9" r="2.0" fill="#157af6"/>
<circle cx="65.82" cy="124" r="2.0" fill="#157af6"/>
<circle cx="65.92" cy="118" r="2.0" fill="#157af6"/>
<circle cx="66" cy="112.7" r="2.0" fill="#157af6"/>
<circle cx="66.11" cy="106.6" r="2.0" fill="#157af6"/>
<circle cx="66.2" cy="101.2" r="2.0" fill="#157af6"/>
<circle cx="66.29" cy="95.5" r="2.0" fill="#157af6"/>
<circle cx="66.38" cy="89.9" r="2.0" fill="#157af6"/>
<circle cx="66.47" cy="85" r="2.0" fill="#157af6"/>
<circle cx="66.54" cy="80.8" r="2.0" fill="#157af6"/>
<circle cx="66.61" cy="76.5" r="2.0" fill="#157af6"/>
<circle cx="66.68" cy="72.2" r="2.0" fill="#157af6"/>
<circle cx="66.75" cy="68" r="2.0" fill="#157af6"/>
<line x1="60.5" y1="4" x2="60.5" y2="149.6" stroke="#8a8a8a" stroke-width="1.3" />
<line x1="60" y1="149.2" x2="240.3" y2="149.2" stroke="#8a8a8a" stroke-width="1.3" />
<line x1="58.2" y1="149.3" x2="60.5" y2="149.3" stroke="#8a8a8a" stroke-width="0.9" />
<text transform="translate(55.8,151.7) scale(0.92,1)" font-size="8.7" text-anchor="end" font-weight="bold" fill="#0e0e0e" class="tl">0</text>
<line x1="59.1" y1="137.28" x2="60.5" y2="137.28" stroke="#8a8a8a" stroke-width="0.9" />
<line x1="58.2" y1="125.25" x2="60.5" y2="125.25" stroke="#8a8a8a" stroke-width="0.9" />
<text transform="translate(55.8,127.65) scale(0.92,1)" font-size="8.7" text-anchor="end" font-weight="bold" fill="#0e0e0e" class="tl">500</text>
<line x1="59.1" y1="113.23" x2="60.5" y2="113.23" stroke="#8a8a8a" stroke-width="0.9" />
<line x1="58.2" y1="101.2" x2="60.5" y2="101.2" stroke="#8a8a8a" stroke-width="0.9" />
<text transform="translate(55.8,103.6) scale(0.92,1)" font-size="8.7" text-anchor="end" font-weight="bold" fill="#0e0e0e" class="tl">1000</text>
<line x1="59.1" y1="89.18" x2="60.5" y2="89.18" stroke="#8a8a8a" stroke-width="0.9" />
<line x1="58.2" y1="77.15" x2="60.5" y2="77.15" stroke="#8a8a8a" stroke-width="0.9" />
<text transform="translate(55.8,79.55) scale(0.92,1)" font-size="8.7" text-anchor="end" font-weight="bold" fill="#0e0e0e" class="tl">1500</text>
<line x1="59.1" y1="65.12" x2="60.5" y2="65.12" stroke="#8a8a8a" stroke-width="0.9" />
<line x1="58.2" y1="53.1" x2="60.5" y2="53.1" stroke="#8a8a8a" stroke-width="0.9" />
<text transform="translate(55.8,55.5) scale(0.92,1)" font-size="8.7" text-anchor="end" font-weight="bold" fill="#0e0e0e" class="tl">2000</text>
<line x1="59.1" y1="41.08" x2="60.5" y2="41.08" stroke="#8a8a8a" stroke-width="0.9" />
<line x1="58.2" y1="29.05" x2="60.5" y2="29.05" stroke="#8a8a8a" stroke-width="0.9" />
<text transform="translate(55.8,31.45) scale(0.92,1)" font-size="8.7" text-anchor="end" font-weight="bold" fill="#0e0e0e" class="tl">2500</text>
<line x1="59.1" y1="17.03" x2="60.5" y2="17.03" stroke="#8a8a8a" stroke-width="0.9" />
<line x1="58.2" y1="5" x2="60.5" y2="5" stroke="#8a8a8a" stroke-width="0.9" />
<text transform="translate(55.8,7.4) scale(0.92,1)" font-size="8.7" text-anchor="end" font-weight="bold" fill="#0e0e0e" class="tl">3000</text>
<line x1="60.5" y1="149" x2="60.5" y2="151.3" stroke="#8a8a8a" stroke-width="0.9" />
<text transform="translate(60.5,160.6) scale(0.92,1)" font-size="8.7" text-anchor="middle" font-weight="bold" fill="#0e0e0e" class="tl">0</text>
<line x1="82.94" y1="149" x2="82.94" y2="150.4" stroke="#8a8a8a" stroke-width="0.9" />
<line x1="105.38" y1="149" x2="105.38" y2="151.3" stroke="#8a8a8a" stroke-width="0.9" />
<text transform="translate(105.38,160.6) scale(0.92,1)" font-size="8.7" text-anchor="middle" font-weight="bold" fill="#0e0e0e" class="tl">1000</text>
<line x1="127.81" y1="149" x2="127.81" y2="150.4" stroke="#8a8a8a" stroke-width="0.9" />
<line x1="150.25" y1="149" x2="150.25" y2="151.3" stroke="#8a8a8a" stroke-width="0.9" />
<text transform="translate(150.25,160.6) scale(0.92,1)" font-size="8.7" text-anchor="middle" font-weight="bold" fill="#0e0e0e" class="tl">2000</text>
<line x1="172.69" y1="149" x2="172.69" y2="150.4" stroke="#8a8a8a" stroke-width="0.9" />
<line x1="195.12" y1="149" x2="195.12" y2="151.3" stroke="#8a8a8a" stroke-width="0.9" />
<text transform="translate(195.12,160.6) scale(0.92,1)" font-size="8.7" text-anchor="middle" font-weight="bold" fill="#0e0e0e" class="tl">3000</text>
<line x1="217.56" y1="149" x2="217.56" y2="150.4" stroke="#8a8a8a" stroke-width="0.9" />
<line x1="240" y1="149" x2="240" y2="151.3" stroke="#8a8a8a" stroke-width="0.9" />
<text transform="translate(240,160.6) scale(0.92,1)" font-size="8.7" text-anchor="middle" font-weight="bold" fill="#0e0e0e" class="tl">4000</text>
<text x="0" y="0" font-size="10.1" text-anchor="middle" font-weight="bold" fill="#0e0e0e" transform="translate(150.1,175.4) scale(0.93,1)">Time (s)</text>
<text x="0" y="0" font-size="10" text-anchor="middle" font-weight="bold" fill="#0e0e0e" transform="translate(34.3,76.3) rotate(-90) scale(0.93,1)" letter-spacing="0.2">G', G'' (Pa)</text>
<rect x="176.4" y="1.5" width="48.3" height="17.9" fill="#ffffff" stroke="#9a9a9a" stroke-width="0.8" />
<rect x="183.5" y="4.6" width="3.6" height="3.6" fill="#ff0000" stroke="none" stroke-width="0" />
<circle cx="185.3" cy="14.9" r="1.85" fill="#157af6"/>
<text x="194.5" y="8.9" font-size="6.8" text-anchor="start" font-weight="normal" fill="#111" >BSA</text>
<text x="194.5" y="17.4" font-size="6.8" text-anchor="start" font-weight="normal" fill="#111" >BSA:MBs</text>
<text transform="translate(1.5,13.7) scale(1.03,1)" font-size="14" font-weight="bold" fill="#0e0e0e">A</text>
<text x="12.3" y="13.9" font-size="15" font-weight="normal" fill="#0e0e0e" class="pr">)</text>
<rect x="302" y="25.88" width="36" height="123.62" fill="#ff0000" stroke="#7a0000" stroke-width="0.75" />
<rect x="346.3" y="49.81" width="36.4" height="99.69" fill="#157af6" stroke="#0b3f86" stroke-width="0.75" />
<line x1="320" y1="17.9" x2="320" y2="33.3" stroke="#2a2a2a" stroke-width="0.8" />
<line x1="318.5" y1="17.9" x2="321.5" y2="17.9" stroke="#2a2a2a" stroke-width="0.8" />
<line x1="318.5" y1="33.3" x2="321.5" y2="33.3" stroke="#2a2a2a" stroke-width="0.8" />
<line x1="364.5" y1="37.4" x2="364.5" y2="62" stroke="#2a2a2a" stroke-width="0.8" />
<line x1="363" y1="37.4" x2="366" y2="37.4" stroke="#2a2a2a" stroke-width="0.8" />
<line x1="363" y1="62" x2="366" y2="62" stroke="#2a2a2a" stroke-width="0.8" />
<rect x="297.1" y="5.4" width="89.9" height="144.1" fill="none" stroke="#8a8a8a" stroke-width="1.3" />
<line x1="294.8" y1="149.5" x2="297.1" y2="149.5" stroke="#8a8a8a" stroke-width="0.9" />
<text transform="translate(292.3,151.9) scale(0.92,1)" font-size="8.7" text-anchor="end" font-weight="bold" fill="#0e0e0e" class="tl">0</text>
<line x1="295.7" y1="133.46" x2="297.1" y2="133.46" stroke="#8a8a8a" stroke-width="0.9" />
<line x1="294.8" y1="117.42" x2="297.1" y2="117.42" stroke="#8a8a8a" stroke-width="0.9" />
<text transform="translate(292.3,119.83) scale(0.92,1)" font-size="8.7" text-anchor="end" font-weight="bold" fill="#0e0e0e" class="tl">500</text>
<line x1="295.7" y1="101.39" x2="297.1" y2="101.39" stroke="#8a8a8a" stroke-width="0.9" />
<line x1="294.8" y1="85.35" x2="297.1" y2="85.35" stroke="#8a8a8a" stroke-width="0.9" />
<text transform="translate(292.3,87.75) scale(0.92,1)" font-size="8.7" text-anchor="end" font-weight="bold" fill="#0e0e0e" class="tl">1000</text>
<line x1="295.7" y1="69.31" x2="297.1" y2="69.31" stroke="#8a8a8a" stroke-width="0.9" />
<line x1="294.8" y1="53.28" x2="297.1" y2="53.28" stroke="#8a8a8a" stroke-width="0.9" />
<text transform="translate(292.3,55.68) scale(0.92,1)" font-size="8.7" text-anchor="end" font-weight="bold" fill="#0e0e0e" class="tl">1500</text>
<line x1="295.7" y1="37.24" x2="297.1" y2="37.24" stroke="#8a8a8a" stroke-width="0.9" />
<line x1="294.8" y1="21.2" x2="297.1" y2="21.2" stroke="#8a8a8a" stroke-width="0.9" />
<text transform="translate(292.3,23.6) scale(0.92,1)" font-size="8.7" text-anchor="end" font-weight="bold" fill="#0e0e0e" class="tl">2000</text>
<line x1="320" y1="149.5" x2="320" y2="151.6" stroke="#8a8a8a" stroke-width="0.9" />
<line x1="364.5" y1="149.5" x2="364.5" y2="151.6" stroke="#8a8a8a" stroke-width="0.9" />
<text transform="translate(320,160.7) scale(0.92,1)" font-size="8.7" text-anchor="middle" font-weight="bold" fill="#0e0e0e" class="tl">BSA</text>
<text transform="translate(364.7,160.7) scale(0.92,1)" font-size="8.7" text-anchor="middle" font-weight="bold" fill="#0e0e0e" class="tl">BSA:MBs</text>
<text transform="translate(271.0,77.5) rotate(-90)" font-size="9.5" text-anchor="middle" font-weight="bold" fill="#0e0e0e">G'<tspan font-size="6.2" dy="1.6" dx="0.3">∞</tspan><tspan dy="-1.6" dx="1.6"> (Pa)</tspan></text>
<text transform="translate(248.4,13.6) scale(0.81,1)" font-size="14" font-weight="bold" fill="#0e0e0e">B</text>
<text x="257.3" y="13.8" font-size="15" font-weight="normal" fill="#0e0e0e" class="pr">)</text>
<rect x="64.3" y="221.18" width="35.7" height="119.12" fill="#ff0000" stroke="#7a0000" stroke-width="0.75" />
<rect x="109" y="216.5" width="36" height="123.8" fill="#157af6" stroke="#0b3f86" stroke-width="0.75" />
<line x1="82.2" y1="218.4" x2="82.2" y2="224.1" stroke="#2a2a2a" stroke-width="0.8" />
<line x1="80.7" y1="218.4" x2="83.7" y2="218.4" stroke="#2a2a2a" stroke-width="0.8" />
<line x1="80.7" y1="224.1" x2="83.7" y2="224.1" stroke="#2a2a2a" stroke-width="0.8" />
<line x1="127" y1="212.9" x2="127" y2="219.3" stroke="#2a2a2a" stroke-width="0.8" />
<line x1="125.5" y1="212.9" x2="128.5" y2="212.9" stroke="#2a2a2a" stroke-width="0.8" />
<line x1="125.5" y1="219.3" x2="128.5" y2="219.3" stroke="#2a2a2a" stroke-width="0.8" />
<rect x="59.8" y="196.3" width="89.8" height="144.2" fill="none" stroke="#8a8a8a" stroke-width="1.3" />
<line x1="57.5" y1="340.3" x2="59.8" y2="340.3" stroke="#8a8a8a" stroke-width="0.9" />
<text transform="translate(55.2,342.7) scale(0.92,1)" font-size="8.7" text-anchor="end" font-weight="bold" fill="#0e0e0e" class="tl">0.0</text>
<line x1="58.4" y1="327.29" x2="59.8" y2="327.29" stroke="#8a8a8a" stroke-width="0.9" />
<line x1="57.5" y1="314.28" x2="59.8" y2="314.28" stroke="#8a8a8a" stroke-width="0.9" />
<text transform="translate(55.2,316.68) scale(0.92,1)" font-size="8.7" text-anchor="end" font-weight="bold" fill="#0e0e0e" class="tl">0.5</text>
<line x1="58.4" y1="301.27" x2="59.8" y2="301.27" stroke="#8a8a8a" stroke-width="0.9" />
<line x1="57.5" y1="288.26" x2="59.8" y2="288.26" stroke="#8a8a8a" stroke-width="0.9" />
<text transform="translate(55.2,290.66) scale(0.92,1)" font-size="8.7" text-anchor="end" font-weight="bold" fill="#0e0e0e" class="tl">1.0</text>
<line x1="58.4" y1="275.25" x2="59.8" y2="275.25" stroke="#8a8a8a" stroke-width="0.9" />
<line x1="57.5" y1="262.24" x2="59.8" y2="262.24" stroke="#8a8a8a" stroke-width="0.9" />
<text transform="translate(55.2,264.64) scale(0.92,1)" font-size="8.7" text-anchor="end" font-weight="bold" fill="#0e0e0e" class="tl">1.5</text>
<line x1="58.4" y1="249.23" x2="59.8" y2="249.23" stroke="#8a8a8a" stroke-width="0.9" />
<line x1="57.5" y1="236.22" x2="59.8" y2="236.22" stroke="#8a8a8a" stroke-width="0.9" />
<text transform="translate(55.2,238.62) scale(0.92,1)" font-size="8.7" text-anchor="end" font-weight="bold" fill="#0e0e0e" class="tl">2.0</text>
<line x1="58.4" y1="223.21" x2="59.8" y2="223.21" stroke="#8a8a8a" stroke-width="0.9" />
<line x1="57.5" y1="210.2" x2="59.8" y2="210.2" stroke="#8a8a8a" stroke-width="0.9" />
<text transform="translate(55.2,212.6) scale(0.92,1)" font-size="8.7" text-anchor="end" font-weight="bold" fill="#0e0e0e" class="tl">2.5</text>
<line x1="82.2" y1="340.5" x2="82.2" y2="342.6" stroke="#8a8a8a" stroke-width="0.9" />
<line x1="127" y1="340.5" x2="127" y2="342.6" stroke="#8a8a8a" stroke-width="0.9" />
<text transform="translate(82.2,351.9) scale(0.92,1)" font-size="8.7" text-anchor="middle" font-weight="bold" fill="#0e0e0e" class="tl">BSA</text>
<text transform="translate(127,351.9) scale(0.92,1)" font-size="8.7" text-anchor="middle" font-weight="bold" fill="#0e0e0e" class="tl">BSA:MBs</text>
<text transform="translate(38.4,268.8) rotate(-90)" font-size="8.7" text-anchor="middle" font-weight="bold" fill="#0e0e0e">K<tspan font-size="5.6" dy="1.8">max</tspan><tspan dy="-1.8"> / G'</tspan><tspan font-size="5.6" dy="1.8">∞</tspan><tspan dy="-1.8"> (x10</tspan><tspan font-size="5.6" dy="-3">-2</tspan><tspan dy="3"> s</tspan><tspan font-size="5.6" dy="-3">-1</tspan><tspan dy="3">)</tspan></text>
<text transform="translate(3.5,210.3) scale(0.82,1)" font-size="14" font-weight="bold" fill="#0e0e0e">C</text>
<text x="11.9" y="210.5" font-size="15" font-weight="normal" fill="#0e0e0e" class="pr">)</text>
<line x1="203.8" y1="277.6" x2="203.8" y2="292" stroke="#a9cdf6" stroke-width="0.7" />
<line x1="202.8" y1="277.6" x2="204.8" y2="277.6" stroke="#8cbdf3" stroke-width="0.7" />
<line x1="202.8" y1="292" x2="204.8" y2="292" stroke="#8cbdf3" stroke-width="0.7" />
<line x1="205.71" y1="277.59" x2="205.71" y2="291.99" stroke="#a9cdf6" stroke-width="0.7" />
<line x1="204.71" y1="277.59" x2="206.71" y2="277.59" stroke="#8cbdf3" stroke-width="0.7" />
<line x1="204.71" y1="291.99" x2="206.71" y2="291.99" stroke="#8cbdf3" stroke-width="0.7" />
<line x1="207.61" y1="277.59" x2="207.61" y2="291.99" stroke="#a9cdf6" stroke-width="0.7" />
<line x1="206.61" y1="277.59" x2="208.61" y2="277.59" stroke="#8cbdf3" stroke-width="0.7" />
<line x1="206.61" y1="291.99" x2="208.61" y2="291.99" stroke="#8cbdf3" stroke-width="0.7" />
<line x1="209.52" y1="277.58" x2="209.52" y2="291.98" stroke="#a9cdf6" stroke-width="0.7" />
<line x1="208.52" y1="277.58" x2="210.52" y2="277.58" stroke="#8cbdf3" stroke-width="0.7" />
<line x1="208.52" y1="291.98" x2="210.52" y2="291.98" stroke="#8cbdf3" stroke-width="0.7" />
<line x1="211.42" y1="277.58" x2="211.42" y2="291.98" stroke="#a9cdf6" stroke-width="0.7" />
<line x1="210.42" y1="277.58" x2="212.42" y2="277.58" stroke="#8cbdf3" stroke-width="0.7" />
<line x1="210.42" y1="291.98" x2="212.42" y2="291.98" stroke="#8cbdf3" stroke-width="0.7" />
<line x1="213.33" y1="277.57" x2="213.33" y2="291.97" stroke="#a9cdf6" stroke-width="0.7" />
<line x1="212.33" y1="277.57" x2="214.33" y2="277.57" stroke="#8cbdf3" stroke-width="0.7" />
<line x1="212.33" y1="291.97" x2="214.33" y2="291.97" stroke="#8cbdf3" stroke-width="0.7" />
<line x1="215.23" y1="277.57" x2="215.23" y2="291.97" stroke="#a9cdf6" stroke-width="0.7" />
<line x1="214.23" y1="277.57" x2="216.23" y2="277.57" stroke="#8cbdf3" stroke-width="0.7" />
<line x1="214.23" y1="291.97" x2="216.23" y2="291.97" stroke="#8cbdf3" stroke-width="0.7" />
<line x1="217.14" y1="277.56" x2="217.14" y2="291.96" stroke="#a9cdf6" stroke-width="0.7" />
<line x1="216.14" y1="277.56" x2="218.14" y2="277.56" stroke="#8cbdf3" stroke-width="0.7" />
<line x1="216.14" y1="291.96" x2="218.14" y2="291.96" stroke="#8cbdf3" stroke-width="0.7" />
<line x1="219.04" y1="277.56" x2="219.04" y2="291.96" stroke="#a9cdf6" stroke-width="0.7" />
<line x1="218.04" y1="277.56" x2="220.04" y2="277.56" stroke="#8cbdf3" stroke-width="0.7" />
<line x1="218.04" y1="291.96" x2="220.04" y2="291.96" stroke="#8cbdf3" stroke-width="0.7" />
<line x1="220.95" y1="277.56" x2="220.95" y2="291.96" stroke="#a9cdf6" stroke-width="0.7" />
<line x1="219.95" y1="277.56" x2="221.95" y2="277.56" stroke="#8cbdf3" stroke-width="0.7" />
<line x1="219.95" y1="291.96" x2="221.95" y2="291.96" stroke="#8cbdf3" stroke-width="0.7" />
<line x1="222.85" y1="277.55" x2="222.85" y2="291.95" stroke="#a9cdf6" stroke-width="0.7" />
<line x1="221.85" y1="277.55" x2="223.85" y2="277.55" stroke="#8cbdf3" stroke-width="0.7" />
<line x1="221.85" y1="291.95" x2="223.85" y2="291.95" stroke="#8cbdf3" stroke-width="0.7" />
<line x1="224.76" y1="277.55" x2="224.76" y2="291.95" stroke="#a9cdf6" stroke-width="0.7" />
<line x1="223.76" y1="277.55" x2="225.76" y2="277.55" stroke="#8cbdf3" stroke-width="0.7" />
<line x1="223.76" y1="291.95" x2="225.76" y2="291.95" stroke="#8cbdf3" stroke-width="0.7" />
<line x1="226.67" y1="277.54" x2="226.67" y2="291.94" stroke="#a9cdf6" stroke-width="0.7" />
<line x1="225.67" y1="277.54" x2="227.67" y2="277.54" stroke="#8cbdf3" stroke-width="0.7" />
<line x1="225.67" y1="291.94" x2="227.67" y2="291.94" stroke="#8cbdf3" stroke-width="0.7" />
<line x1="228.57" y1="277.54" x2="228.57" y2="291.94" stroke="#a9cdf6" stroke-width="0.7" />
<line x1="227.57" y1="277.54" x2="229.57" y2="277.54" stroke="#8cbdf3" stroke-width="0.7" />
<line x1="227.57" y1="291.94" x2="229.57" y2="291.94" stroke="#8cbdf3" stroke-width="0.7" />
<line x1="230.48" y1="277.53" x2="230.48" y2="291.93" stroke="#a9cdf6" stroke-width="0.7" />
<line x1="229.48" y1="277.53" x2="231.48" y2="277.53" stroke="#8cbdf3" stroke-width="0.7" />
<line x1="229.48" y1="291.93" x2="231.48" y2="291.93" stroke="#8cbdf3" stroke-width="0.7" />
<line x1="232.38" y1="277.53" x2="232.38" y2="291.93" stroke="#a9cdf6" stroke-width="0.7" />
<line x1="231.38" y1="277.53" x2="233.38" y2="277.53" stroke="#8cbdf3" stroke-width="0.7" />
<line x1="231.38" y1="291.93" x2="233.38" y2="291.93" stroke="#8cbdf3" stroke-width="0.7" />
<line x1="234.29" y1="277.53" x2="234.29" y2="291.93" stroke="#a9cdf6" stroke-width="0.7" />
<line x1="233.29" y1="277.53" x2="235.29" y2="277.53" stroke="#8cbdf3" stroke-width="0.7" />
<line x1="233.29" y1="291.93" x2="235.29" y2="291.93" stroke="#8cbdf3" stroke-width="0.7" />
<line x1="236.19" y1="277.52" x2="236.19" y2="291.92" stroke="#a9cdf6" stroke-width="0.7" />
<line x1="235.19" y1="277.52" x2="237.19" y2="277.52" stroke="#8cbdf3" stroke-width="0.7" />
<line x1="235.19" y1="291.92" x2="237.19" y2="291.92" stroke="#8cbdf3" stroke-width="0.7" />
<line x1="238.1" y1="277.51" x2="238.1" y2="291.91" stroke="#a9cdf6" stroke-width="0.7" />
<line x1="237.1" y1="277.51" x2="239.1" y2="277.51" stroke="#8cbdf3" stroke-width="0.7" />
<line x1="237.1" y1="291.91" x2="239.1" y2="291.91" stroke="#8cbdf3" stroke-width="0.7" />
<line x1="240" y1="277.51" x2="240" y2="291.91" stroke="#a9cdf6" stroke-width="0.7" />
<line x1="239" y1="277.51" x2="241" y2="277.51" stroke="#8cbdf3" stroke-width="0.7" />
<line x1="239" y1="291.91" x2="241" y2="291.91" stroke="#8cbdf3" stroke-width="0.7" />
<line x1="241.91" y1="277.5" x2="241.91" y2="291.9" stroke="#a9cdf6" stroke-width="0.7" />
<line x1="240.91" y1="277.5" x2="242.91" y2="277.5" stroke="#8cbdf3" stroke-width="0.7" />
<line x1="240.91" y1="291.9" x2="242.91" y2="291.9" stroke="#8cbdf3" stroke-width="0.7" />
<line x1="243.82" y1="277.49" x2="243.82" y2="291.89" stroke="#a9cdf6" stroke-width="0.7" />
<line x1="242.82" y1="277.49" x2="244.82" y2="277.49" stroke="#8cbdf3" stroke-width="0.7" />
<line x1="242.82" y1="291.89" x2="244.82" y2="291.89" stroke="#8cbdf3" stroke-width="0.7" />
<line x1="245.72" y1="277.49" x2="245.72" y2="291.89" stroke="#a9cdf6" stroke-width="0.7" />
<line x1="244.72" y1="277.49" x2="246.72" y2="277.49" stroke="#8cbdf3" stroke-width="0.7" />
<line x1="244.72" y1="291.89" x2="246.72" y2="291.89" stroke="#8cbdf3" stroke-width="0.7" />
<line x1="247.63" y1="277.48" x2="247.63" y2="291.88" stroke="#a9cdf6" stroke-width="0.7" />
<line x1="246.63" y1="277.48" x2="248.63" y2="277.48" stroke="#8cbdf3" stroke-width="0.7" />
<line x1="246.63" y1="291.88" x2="248.63" y2="291.88" stroke="#8cbdf3" stroke-width="0.7" />
<line x1="249.53" y1="277.47" x2="249.53" y2="291.87" stroke="#a9cdf6" stroke-width="0.7" />
<line x1="248.53" y1="277.47" x2="250.53" y2="277.47" stroke="#8cbdf3" stroke-width="0.7" />
<line x1="248.53" y1="291.87" x2="250.53" y2="291.87" stroke="#8cbdf3" stroke-width="0.7" />
<line x1="251.44" y1="277.46" x2="251.44" y2="291.86" stroke="#a9cdf6" stroke-width="0.7" />
<line x1="250.44" y1="277.46" x2="252.44" y2="277.46" stroke="#8cbdf3" stroke-width="0.7" />
<line x1="250.44" y1="291.86" x2="252.44" y2="291.86" stroke="#8cbdf3" stroke-width="0.7" />
<line x1="253.34" y1="277.45" x2="253.34" y2="291.85" stroke="#a9cdf6" stroke-width="0.7" />
<line x1="252.34" y1="277.45" x2="254.34" y2="277.45" stroke="#8cbdf3" stroke-width="0.7" />
<line x1="252.34" y1="291.85" x2="254.34" y2="291.85" stroke="#8cbdf3" stroke-width="0.7" />
<line x1="255.25" y1="277.43" x2="255.25" y2="291.83" stroke="#a9cdf6" stroke-width="0.7" />
<line x1="254.25" y1="277.43" x2="256.25" y2="277.43" stroke="#8cbdf3" stroke-width="0.7" />
<line x1="254.25" y1="291.83" x2="256.25" y2="291.83" stroke="#8cbdf3" stroke-width="0.7" />
<line x1="257.15" y1="277.42" x2="257.15" y2="291.82" stroke="#a9cdf6" stroke-width="0.7" />
<line x1="256.15" y1="277.42" x2="258.15" y2="277.42" stroke="#8cbdf3" stroke-width="0.7" />
<line x1="256.15" y1="291.82" x2="258.15" y2="291.82" stroke="#8cbdf3" stroke-width="0.7" />
<line x1="259.06" y1="277.41" x2="259.06" y2="291.81" stroke="#a9cdf6" stroke-width="0.7" />
<line x1="258.06" y1="277.41" x2="260.06" y2="277.41" stroke="#8cbdf3" stroke-width="0.7" />
<line x1="258.06" y1="291.81" x2="260.06" y2="291.81" stroke="#8cbdf3" stroke-width="0.7" />
<line x1="260.96" y1="277.39" x2="260.96" y2="291.79" stroke="#a9cdf6" stroke-width="0.7" />
<line x1="259.96" y1="277.39" x2="261.96" y2="277.39" stroke="#8cbdf3" stroke-width="0.7" />
<line x1="259.96" y1="291.79" x2="261.96" y2="291.79" stroke="#8cbdf3" stroke-width="0.7" />
<line x1="262.87" y1="277.33" x2="262.87" y2="291.73" stroke="#a9cdf6" stroke-width="0.7" />
<line x1="261.87" y1="277.33" x2="263.87" y2="277.33" stroke="#8cbdf3" stroke-width="0.7" />
<line x1="261.87" y1="291.73" x2="263.87" y2="291.73" stroke="#8cbdf3" stroke-width="0.7" />
<line x1="264.78" y1="277.24" x2="264.78" y2="291.64" stroke="#a9cdf6" stroke-width="0.7" />
<line x1="263.78" y1="277.24" x2="265.78" y2="277.24" stroke="#8cbdf3" stroke-width="0.7" />
<line x1="263.78" y1="291.64" x2="265.78" y2="291.64" stroke="#8cbdf3" stroke-width="0.7" />
<line x1="266.68" y1="277.11" x2="266.68" y2="291.51" stroke="#a9cdf6" stroke-width="0.7" />
<line x1="265.68" y1="277.11" x2="267.68" y2="277.11" stroke="#8cbdf3" stroke-width="0.7" />
<line x1="265.68" y1="291.51" x2="267.68" y2="291.51" stroke="#8cbdf3" stroke-width="0.7" />
<line x1="268.59" y1="276.96" x2="268.59" y2="291.36" stroke="#a9cdf6" stroke-width="0.7" />
<line x1="267.59" y1="276.96" x2="269.59" y2="276.96" stroke="#8cbdf3" stroke-width="0.7" />
<line x1="267.59" y1="291.36" x2="269.59" y2="291.36" stroke="#8cbdf3" stroke-width="0.7" />
<line x1="270.49" y1="276.79" x2="270.49" y2="291.19" stroke="#a9cdf6" stroke-width="0.7" />
<line x1="269.49" y1="276.79" x2="271.49" y2="276.79" stroke="#8cbdf3" stroke-width="0.7" />
<line x1="269.49" y1="291.19" x2="271.49" y2="291.19" stroke="#8cbdf3" stroke-width="0.7" />
<line x1="272.4" y1="276.6" x2="272.4" y2="291" stroke="#a9cdf6" stroke-width="0.7" />
<line x1="271.4" y1="276.6" x2="273.4" y2="276.6" stroke="#8cbdf3" stroke-width="0.7" />
<line x1="271.4" y1="291" x2="273.4" y2="291" stroke="#8cbdf3" stroke-width="0.7" />
<line x1="274.3" y1="276.4" x2="274.3" y2="290.8" stroke="#a9cdf6" stroke-width="0.7" />
<line x1="273.3" y1="276.4" x2="275.3" y2="276.4" stroke="#8cbdf3" stroke-width="0.7" />
<line x1="273.3" y1="290.8" x2="275.3" y2="290.8" stroke="#8cbdf3" stroke-width="0.7" />
<line x1="276.21" y1="276.2" x2="276.21" y2="290.6" stroke="#a9cdf6" stroke-width="0.7" />
<line x1="275.21" y1="276.2" x2="277.21" y2="276.2" stroke="#8cbdf3" stroke-width="0.7" />
<line x1="275.21" y1="290.6" x2="277.21" y2="290.6" stroke="#8cbdf3" stroke-width="0.7" />
<line x1="278.11" y1="275.99" x2="278.11" y2="290.39" stroke="#a9cdf6" stroke-width="0.7" />
<line x1="277.11" y1="275.99" x2="279.11" y2="275.99" stroke="#8cbdf3" stroke-width="0.7" />
<line x1="277.11" y1="290.39" x2="279.11" y2="290.39" stroke="#8cbdf3" stroke-width="0.7" />
<line x1="280.02" y1="275.79" x2="280.02" y2="290.19" stroke="#a9cdf6" stroke-width="0.7" />
<line x1="279.02" y1="275.79" x2="281.02" y2="275.79" stroke="#8cbdf3" stroke-width="0.7" />
<line x1="279.02" y1="290.19" x2="281.02" y2="290.19" stroke="#8cbdf3" stroke-width="0.7" />
<line x1="281.92" y1="275.55" x2="281.92" y2="289.95" stroke="#a9cdf6" stroke-width="0.7" />
<line x1="280.92" y1="275.55" x2="282.92" y2="275.55" stroke="#8cbdf3" stroke-width="0.7" />
<line x1="280.92" y1="289.95" x2="282.92" y2="289.95" stroke="#8cbdf3" stroke-width="0.7" />
<line x1="283.83" y1="275.29" x2="283.83" y2="289.69" stroke="#a9cdf6" stroke-width="0.7" />
<line x1="282.83" y1="275.29" x2="284.83" y2="275.29" stroke="#8cbdf3" stroke-width="0.7" />
<line x1="282.83" y1="289.69" x2="284.83" y2="289.69" stroke="#8cbdf3" stroke-width="0.7" />
<line x1="285.74" y1="274.99" x2="285.74" y2="289.39" stroke="#a9cdf6" stroke-width="0.7" />
<line x1="284.74" y1="274.99" x2="286.74" y2="274.99" stroke="#8cbdf3" stroke-width="0.7" />
<line x1="284.74" y1="289.39" x2="286.74" y2="289.39" stroke="#8cbdf3" stroke-width="0.7" />
<line x1="287.64" y1="274.66" x2="287.64" y2="289.06" stroke="#a9cdf6" stroke-width="0.7" />
<line x1="286.64" y1="274.66" x2="288.64" y2="274.66" stroke="#8cbdf3" stroke-width="0.7" />
<line x1="286.64" y1="289.06" x2="288.64" y2="289.06" stroke="#8cbdf3" stroke-width="0.7" />
<line x1="289.55" y1="274.31" x2="289.55" y2="288.71" stroke="#a9cdf6" stroke-width="0.7" />
<line x1="288.55" y1="274.31" x2="290.55" y2="274.31" stroke="#8cbdf3" stroke-width="0.7" />
<line x1="288.55" y1="288.71" x2="290.55" y2="288.71" stroke="#8cbdf3" stroke-width="0.7" />
<line x1="291.45" y1="273.91" x2="291.45" y2="288.33" stroke="#a9cdf6" stroke-width="0.7" />
<line x1="290.45" y1="273.91" x2="292.45" y2="273.91" stroke="#8cbdf3" stroke-width="0.7" />
<line x1="290.45" y1="288.33" x2="292.45" y2="288.33" stroke="#8cbdf3" stroke-width="0.7" />
<line x1="293.36" y1="273.46" x2="293.36" y2="287.91" stroke="#a9cdf6" stroke-width="0.7" />
<line x1="292.36" y1="273.46" x2="294.36" y2="273.46" stroke="#8cbdf3" stroke-width="0.7" />
<line x1="292.36" y1="287.91" x2="294.36" y2="287.91" stroke="#8cbdf3" stroke-width="0.7" />
<line x1="295.26" y1="272.94" x2="295.26" y2="287.42" stroke="#a9cdf6" stroke-width="0.7" />
<line x1="294.26" y1="272.94" x2="296.26" y2="272.94" stroke="#8cbdf3" stroke-width="0.7" />
<line x1="294.26" y1="287.42" x2="296.26" y2="287.42" stroke="#8cbdf3" stroke-width="0.7" />
<line x1="297.17" y1="272.33" x2="297.17" y2="286.85" stroke="#a9cdf6" stroke-width="0.7" />
<line x1="296.17" y1="272.33" x2="298.17" y2="272.33" stroke="#8cbdf3" stroke-width="0.7" />
<line x1="296.17" y1="286.85" x2="298.17" y2="286.85" stroke="#8cbdf3" stroke-width="0.7" />
<line x1="299.07" y1="271.6" x2="299.07" y2="286.15" stroke="#a9cdf6" stroke-width="0.7" />
<line x1="298.07" y1="271.6" x2="300.07" y2="271.6" stroke="#8cbdf3" stroke-width="0.7" />
<line x1="298.07" y1="286.15" x2="300.07" y2="286.15" stroke="#8cbdf3" stroke-width="0.7" />
<line x1="300.98" y1="270.62" x2="300.98" y2="285.21" stroke="#a9cdf6" stroke-width="0.7" />
<line x1="299.98" y1="270.62" x2="301.98" y2="270.62" stroke="#8cbdf3" stroke-width="0.7" />
<line x1="299.98" y1="285.21" x2="301.98" y2="285.21" stroke="#8cbdf3" stroke-width="0.7" />
<line x1="302.89" y1="269.44" x2="302.89" y2="284.05" stroke="#a9cdf6" stroke-width="0.7" />
<line x1="301.89" y1="269.44" x2="303.89" y2="269.44" stroke="#8cbdf3" stroke-width="0.7" />
<line x1="301.89" y1="284.05" x2="303.89" y2="284.05" stroke="#8cbdf3" stroke-width="0.7" />
<line x1="304.79" y1="268.09" x2="304.79" y2="282.73" stroke="#a9cdf6" stroke-width="0.7" />
<line x1="303.79" y1="268.09" x2="305.79" y2="268.09" stroke="#8cbdf3" stroke-width="0.7" />
<line x1="303.79" y1="282.73" x2="305.79" y2="282.73" stroke="#8cbdf3" stroke-width="0.7" />
<line x1="306.7" y1="266.6" x2="306.7" y2="281.28" stroke="#a9cdf6" stroke-width="0.7" />
<line x1="305.7" y1="266.6" x2="307.7" y2="266.6" stroke="#8cbdf3" stroke-width="0.7" />
<line x1="305.7" y1="281.28" x2="307.7" y2="281.28" stroke="#8cbdf3" stroke-width="0.7" />
<line x1="308.6" y1="264.87" x2="308.6" y2="279.58" stroke="#a9cdf6" stroke-width="0.7" />
<line x1="307.6" y1="264.87" x2="309.6" y2="264.87" stroke="#8cbdf3" stroke-width="0.7" />
<line x1="307.6" y1="279.58" x2="309.6" y2="279.58" stroke="#8cbdf3" stroke-width="0.7" />
<line x1="310.51" y1="262.76" x2="310.51" y2="277.5" stroke="#a9cdf6" stroke-width="0.7" />
<line x1="309.51" y1="262.76" x2="311.51" y2="262.76" stroke="#8cbdf3" stroke-width="0.7" />
<line x1="309.51" y1="277.5" x2="311.51" y2="277.5" stroke="#8cbdf3" stroke-width="0.7" />
<line x1="312.41" y1="260.58" x2="312.41" y2="275.35" stroke="#a9cdf6" stroke-width="0.7" />
<line x1="311.41" y1="260.58" x2="313.41" y2="260.58" stroke="#8cbdf3" stroke-width="0.7" />
<line x1="311.41" y1="275.35" x2="313.41" y2="275.35" stroke="#8cbdf3" stroke-width="0.7" />
<line x1="314.32" y1="258.43" x2="314.32" y2="273.24" stroke="#a9cdf6" stroke-width="0.7" />
<line x1="313.32" y1="258.43" x2="315.32" y2="258.43" stroke="#8cbdf3" stroke-width="0.7" />
<line x1="313.32" y1="273.24" x2="315.32" y2="273.24" stroke="#8cbdf3" stroke-width="0.7" />
<line x1="316.22" y1="256.19" x2="316.22" y2="271.03" stroke="#a9cdf6" stroke-width="0.7" />
<line x1="315.22" y1="256.19" x2="317.22" y2="256.19" stroke="#8cbdf3" stroke-width="0.7" />
<line x1="315.22" y1="271.03" x2="317.22" y2="271.03" stroke="#8cbdf3" stroke-width="0.7" />
<line x1="318.13" y1="253.73" x2="318.13" y2="268.59" stroke="#a9cdf6" stroke-width="0.7" />
<line x1="317.13" y1="253.73" x2="319.13" y2="253.73" stroke="#8cbdf3" stroke-width="0.7" />
<line x1="317.13" y1="268.59" x2="319.13" y2="268.59" stroke="#8cbdf3" stroke-width="0.7" />
<line x1="320.03" y1="250.89" x2="320.03" y2="265.8" stroke="#a9cdf6" stroke-width="0.7" />
<line x1="319.03" y1="250.89" x2="321.03" y2="250.89" stroke="#8cbdf3" stroke-width="0.7" />
<line x1="319.03" y1="265.8" x2="321.03" y2="265.8" stroke="#8cbdf3" stroke-width="0.7" />
<line x1="321.94" y1="247.76" x2="321.94" y2="262.69" stroke="#a9cdf6" stroke-width="0.7" />
<line x1="320.94" y1="247.76" x2="322.94" y2="247.76" stroke="#8cbdf3" stroke-width="0.7" />
<line x1="320.94" y1="262.69" x2="322.94" y2="262.69" stroke="#8cbdf3" stroke-width="0.7" />
<line x1="323.85" y1="244.44" x2="323.85" y2="259.4" stroke="#a9cdf6" stroke-width="0.7" />
<line x1="322.85" y1="244.44" x2="324.85" y2="244.44" stroke="#8cbdf3" stroke-width="0.7" />
<line x1="322.85" y1="259.4" x2="324.85" y2="259.4" stroke="#8cbdf3" stroke-width="0.7" />
<line x1="325.75" y1="240.77" x2="325.75" y2="255.77" stroke="#a9cdf6" stroke-width="0.7" />
<line x1="324.75" y1="240.77" x2="326.75" y2="240.77" stroke="#8cbdf3" stroke-width="0.7" />
<line x1="324.75" y1="255.77" x2="326.75" y2="255.77" stroke="#8cbdf3" stroke-width="0.7" />
<line x1="327.66" y1="237.07" x2="327.66" y2="252.1" stroke="#a9cdf6" stroke-width="0.7" />
<line x1="326.66" y1="237.07" x2="328.66" y2="237.07" stroke="#8cbdf3" stroke-width="0.7" />
<line x1="326.66" y1="252.1" x2="328.66" y2="252.1" stroke="#8cbdf3" stroke-width="0.7" />
<line x1="329.56" y1="233.71" x2="329.56" y2="248.77" stroke="#a9cdf6" stroke-width="0.7" />
<line x1="328.56" y1="233.71" x2="330.56" y2="233.71" stroke="#8cbdf3" stroke-width="0.7" />
<line x1="328.56" y1="248.77" x2="330.56" y2="248.77" stroke="#8cbdf3" stroke-width="0.7" />
<line x1="331.47" y1="230.8" x2="331.47" y2="245.89" stroke="#a9cdf6" stroke-width="0.7" />
<line x1="330.47" y1="230.8" x2="332.47" y2="230.8" stroke="#8cbdf3" stroke-width="0.7" />
<line x1="330.47" y1="245.89" x2="332.47" y2="245.89" stroke="#8cbdf3" stroke-width="0.7" />
<line x1="333.37" y1="228.11" x2="333.37" y2="243.23" stroke="#a9cdf6" stroke-width="0.7" />
<line x1="332.37" y1="228.11" x2="334.37" y2="228.11" stroke="#8cbdf3" stroke-width="0.7" />
<line x1="332.37" y1="243.23" x2="334.37" y2="243.23" stroke="#8cbdf3" stroke-width="0.7" />
<line x1="335.28" y1="225.4" x2="335.28" y2="240.55" stroke="#a9cdf6" stroke-width="0.7" />
<line x1="334.28" y1="225.4" x2="336.28" y2="225.4" stroke="#8cbdf3" stroke-width="0.7" />
<line x1="334.28" y1="240.55" x2="336.28" y2="240.55" stroke="#8cbdf3" stroke-width="0.7" />
<line x1="337.18" y1="222.43" x2="337.18" y2="237.61" stroke="#a9cdf6" stroke-width="0.7" />
<line x1="336.18" y1="222.43" x2="338.18" y2="222.43" stroke="#8cbdf3" stroke-width="0.7" />
<line x1="336.18" y1="237.61" x2="338.18" y2="237.61" stroke="#8cbdf3" stroke-width="0.7" />
<line x1="339.09" y1="219.51" x2="339.09" y2="234.72" stroke="#a9cdf6" stroke-width="0.7" />
<line x1="338.09" y1="219.51" x2="340.09" y2="219.51" stroke="#8cbdf3" stroke-width="0.7" />
<line x1="338.09" y1="234.72" x2="340.09" y2="234.72" stroke="#8cbdf3" stroke-width="0.7" />
<line x1="340.99" y1="217.07" x2="340.99" y2="232.32" stroke="#a9cdf6" stroke-width="0.7" />
<line x1="339.99" y1="217.07" x2="341.99" y2="217.07" stroke="#8cbdf3" stroke-width="0.7" />
<line x1="339.99" y1="232.32" x2="341.99" y2="232.32" stroke="#8cbdf3" stroke-width="0.7" />
<line x1="342.9" y1="214.83" x2="342.9" y2="230.11" stroke="#a9cdf6" stroke-width="0.7" />
<line x1="341.9" y1="214.83" x2="343.9" y2="214.83" stroke="#8cbdf3" stroke-width="0.7" />
<line x1="341.9" y1="230.11" x2="343.9" y2="230.11" stroke="#8cbdf3" stroke-width="0.7" />
<line x1="344.81" y1="212.58" x2="344.81" y2="227.89" stroke="#a9cdf6" stroke-width="0.7" />
<line x1="343.81" y1="212.58" x2="345.81" y2="212.58" stroke="#8cbdf3" stroke-width="0.7" />
<line x1="343.81" y1="227.89" x2="345.81" y2="227.89" stroke="#8cbdf3" stroke-width="0.7" />
<line x1="346.71" y1="210.6" x2="346.71" y2="225.95" stroke="#a9cdf6" stroke-width="0.7" />
<line x1="345.71" y1="210.6" x2="347.71" y2="210.6" stroke="#8cbdf3" stroke-width="0.7" />
<line x1="345.71" y1="225.95" x2="347.71" y2="225.95" stroke="#8cbdf3" stroke-width="0.7" />
<line x1="348.62" y1="208.99" x2="348.62" y2="224.37" stroke="#a9cdf6" stroke-width="0.7" />
<line x1="347.62" y1="208.99" x2="349.62" y2="208.99" stroke="#8cbdf3" stroke-width="0.7" />
<line x1="347.62" y1="224.37" x2="349.62" y2="224.37" stroke="#8cbdf3" stroke-width="0.7" />
<line x1="350.52" y1="209.46" x2="350.52" y2="224.87" stroke="#a9cdf6" stroke-width="0.7" />
<line x1="349.52" y1="209.46" x2="351.52" y2="209.46" stroke="#8cbdf3" stroke-width="0.7" />
<line x1="349.52" y1="224.87" x2="351.52" y2="224.87" stroke="#8cbdf3" stroke-width="0.7" />
<line x1="353" y1="214.8" x2="353" y2="232.8" stroke="#a9cdf6" stroke-width="0.7" />
<line x1="352" y1="214.8" x2="354" y2="214.8" stroke="#8cbdf3" stroke-width="0.7" />
<line x1="352" y1="232.8" x2="354" y2="232.8" stroke="#8cbdf3" stroke-width="0.7" />
<line x1="354.9" y1="224" x2="354.9" y2="242" stroke="#a9cdf6" stroke-width="0.7" />
<line x1="353.9" y1="224" x2="355.9" y2="224" stroke="#8cbdf3" stroke-width="0.7" />
<line x1="353.9" y1="242" x2="355.9" y2="242" stroke="#8cbdf3" stroke-width="0.7" />
<line x1="356.8" y1="236.8" x2="356.8" y2="264.8" stroke="#a9cdf6" stroke-width="0.7" />
<line x1="355.8" y1="236.8" x2="357.8" y2="236.8" stroke="#8cbdf3" stroke-width="0.7" />
<line x1="355.8" y1="264.8" x2="357.8" y2="264.8" stroke="#8cbdf3" stroke-width="0.7" />
<line x1="358.7" y1="255.5" x2="358.7" y2="283.5" stroke="#a9cdf6" stroke-width="0.7" />
<line x1="357.7" y1="255.5" x2="359.7" y2="255.5" stroke="#8cbdf3" stroke-width="0.7" />
<line x1="357.7" y1="283.5" x2="359.7" y2="283.5" stroke="#8cbdf3" stroke-width="0.7" />
<line x1="360.3" y1="274.4" x2="360.3" y2="302.4" stroke="#a9cdf6" stroke-width="0.7" />
<line x1="359.3" y1="274.4" x2="361.3" y2="274.4" stroke="#8cbdf3" stroke-width="0.7" />
<line x1="359.3" y1="302.4" x2="361.3" y2="302.4" stroke="#8cbdf3" stroke-width="0.7" />
<line x1="362.2" y1="302.2" x2="362.2" y2="330.2" stroke="#a9cdf6" stroke-width="0.7" />
<line x1="361.2" y1="302.2" x2="363.2" y2="302.2" stroke="#8cbdf3" stroke-width="0.7" />
<line x1="361.2" y1="330.2" x2="363.2" y2="330.2" stroke="#8cbdf3" stroke-width="0.7" />
<line x1="363.6" y1="316.6" x2="363.6" y2="341.2" stroke="#a9cdf6" stroke-width="0.7" />
<line x1="362.6" y1="316.6" x2="364.6" y2="316.6" stroke="#8cbdf3" stroke-width="0.7" />
<line x1="367.3" y1="320.7" x2="367.3" y2="341.2" stroke="#a9cdf6" stroke-width="0.7" />
<line x1="366.3" y1="320.7" x2="368.3" y2="320.7" stroke="#8cbdf3" stroke-width="0.7" />
<line x1="203.8" y1="281" x2="203.8" y2="288.6" stroke="#f5a3a3" stroke-width="0.65" />
<line x1="202.8" y1="281" x2="204.8" y2="281" stroke="#f08c8c" stroke-width="0.65" />
<line x1="202.8" y1="288.6" x2="204.8" y2="288.6" stroke="#f08c8c" stroke-width="0.65" />
<line x1="205.71" y1="281" x2="205.71" y2="288.6" stroke="#f5a3a3" stroke-width="0.65" />
<line x1="204.71" y1="281" x2="206.71" y2="281" stroke="#f08c8c" stroke-width="0.65" />
<line x1="204.71" y1="288.6" x2="206.71" y2="288.6" stroke="#f08c8c" stroke-width="0.65" />
<line x1="207.61" y1="281" x2="207.61" y2="288.6" stroke="#f5a3a3" stroke-width="0.65" />
<line x1="206.61" y1="281" x2="208.61" y2="281" stroke="#f08c8c" stroke-width="0.65" />
<line x1="206.61" y1="288.6" x2="208.61" y2="288.6" stroke="#f08c8c" stroke-width="0.65" />
<line x1="209.52" y1="281" x2="209.52" y2="288.6" stroke="#f5a3a3" stroke-width="0.65" />
<line x1="208.52" y1="281" x2="210.52" y2="281" stroke="#f08c8c" stroke-width="0.65" />
<line x1="208.52" y1="288.6" x2="210.52" y2="288.6" stroke="#f08c8c" stroke-width="0.65" />
<line x1="211.42" y1="281" x2="211.42" y2="288.6" stroke="#f5a3a3" stroke-width="0.65" />
<line x1="210.42" y1="281" x2="212.42" y2="281" stroke="#f08c8c" stroke-width="0.65" />
<line x1="210.42" y1="288.6" x2="212.42" y2="288.6" stroke="#f08c8c" stroke-width="0.65" />
<line x1="213.33" y1="281" x2="213.33" y2="288.6" stroke="#f5a3a3" stroke-width="0.65" />
<line x1="212.33" y1="281" x2="214.33" y2="281" stroke="#f08c8c" stroke-width="0.65" />
<line x1="212.33" y1="288.6" x2="214.33" y2="288.6" stroke="#f08c8c" stroke-width="0.65" />
<line x1="215.23" y1="281" x2="215.23" y2="288.6" stroke="#f5a3a3" stroke-width="0.65" />
<line x1="214.23" y1="281" x2="216.23" y2="281" stroke="#f08c8c" stroke-width="0.65" />
<line x1="214.23" y1="288.6" x2="216.23" y2="288.6" stroke="#f08c8c" stroke-width="0.65" />
<line x1="217.14" y1="281" x2="217.14" y2="288.6" stroke="#f5a3a3" stroke-width="0.65" />
<line x1="216.14" y1="281" x2="218.14" y2="281" stroke="#f08c8c" stroke-width="0.65" />
<line x1="216.14" y1="288.6" x2="218.14" y2="288.6" stroke="#f08c8c" stroke-width="0.65" />
<line x1="219.04" y1="281" x2="219.04" y2="288.6" stroke="#f5a3a3" stroke-width="0.65" />
<line x1="218.04" y1="281" x2="220.04" y2="281" stroke="#f08c8c" stroke-width="0.65" />
<line x1="218.04" y1="288.6" x2="220.04" y2="288.6" stroke="#f08c8c" stroke-width="0.65" />
<line x1="220.95" y1="281" x2="220.95" y2="288.6" stroke="#f5a3a3" stroke-width="0.65" />
<line x1="219.95" y1="281" x2="221.95" y2="281" stroke="#f08c8c" stroke-width="0.65" />
<line x1="219.95" y1="288.6" x2="221.95" y2="288.6" stroke="#f08c8c" stroke-width="0.65" />
<line x1="222.85" y1="281" x2="222.85" y2="288.6" stroke="#f5a3a3" stroke-width="0.65" />
<line x1="221.85" y1="281" x2="223.85" y2="281" stroke="#f08c8c" stroke-width="0.65" />
<line x1="221.85" y1="288.6" x2="223.85" y2="288.6" stroke="#f08c8c" stroke-width="0.65" />
<line x1="224.76" y1="281" x2="224.76" y2="288.6" stroke="#f5a3a3" stroke-width="0.65" />
<line x1="223.76" y1="281" x2="225.76" y2="281" stroke="#f08c8c" stroke-width="0.65" />
<line x1="223.76" y1="288.6" x2="225.76" y2="288.6" stroke="#f08c8c" stroke-width="0.65" />
<line x1="226.67" y1="281" x2="226.67" y2="288.6" stroke="#f5a3a3" stroke-width="0.65" />
<line x1="225.67" y1="281" x2="227.67" y2="281" stroke="#f08c8c" stroke-width="0.65" />
<line x1="225.67" y1="288.6" x2="227.67" y2="288.6" stroke="#f08c8c" stroke-width="0.65" />
<line x1="228.57" y1="281" x2="228.57" y2="288.6" stroke="#f5a3a3" stroke-width="0.65" />
<line x1="227.57" y1="281" x2="229.57" y2="281" stroke="#f08c8c" stroke-width="0.65" />
<line x1="227.57" y1="288.6" x2="229.57" y2="288.6" stroke="#f08c8c" stroke-width="0.65" />
<line x1="230.48" y1="281" x2="230.48" y2="288.6" stroke="#f5a3a3" stroke-width="0.65" />
<line x1="229.48" y1="281" x2="231.48" y2="281" stroke="#f08c8c" stroke-width="0.65" />
<line x1="229.48" y1="288.6" x2="231.48" y2="288.6" stroke="#f08c8c" stroke-width="0.65" />
<line x1="232.38" y1="281" x2="232.38" y2="288.6" stroke="#f5a3a3" stroke-width="0.65" />
<line x1="231.38" y1="281" x2="233.38" y2="281" stroke="#f08c8c" stroke-width="0.65" />
<line x1="231.38" y1="288.6" x2="233.38" y2="288.6" stroke="#f08c8c" stroke-width="0.65" />
<line x1="234.29" y1="281" x2="234.29" y2="288.6" stroke="#f5a3a3" stroke-width="0.65" />
<line x1="233.29" y1="281" x2="235.29" y2="281" stroke="#f08c8c" stroke-width="0.65" />
<line x1="233.29" y1="288.6" x2="235.29" y2="288.6" stroke="#f08c8c" stroke-width="0.65" />
<line x1="236.19" y1="281" x2="236.19" y2="288.6" stroke="#f5a3a3" stroke-width="0.65" />
<line x1="235.19" y1="281" x2="237.19" y2="281" stroke="#f08c8c" stroke-width="0.65" />
<line x1="235.19" y1="288.6" x2="237.19" y2="288.6" stroke="#f08c8c" stroke-width="0.65" />
<line x1="238.1" y1="281" x2="238.1" y2="288.6" stroke="#f5a3a3" stroke-width="0.65" />
<line x1="237.1" y1="281" x2="239.1" y2="281" stroke="#f08c8c" stroke-width="0.65" />
<line x1="237.1" y1="288.6" x2="239.1" y2="288.6" stroke="#f08c8c" stroke-width="0.65" />
<line x1="240" y1="281" x2="240" y2="288.6" stroke="#f5a3a3" stroke-width="0.65" />
<line x1="239" y1="281" x2="241" y2="281" stroke="#f08c8c" stroke-width="0.65" />
<line x1="239" y1="288.6" x2="241" y2="288.6" stroke="#f08c8c" stroke-width="0.65" />
<line x1="241.91" y1="281" x2="241.91" y2="288.6" stroke="#f5a3a3" stroke-width="0.65" />
<line x1="240.91" y1="281" x2="242.91" y2="281" stroke="#f08c8c" stroke-width="0.65" />
<line x1="240.91" y1="288.6" x2="242.91" y2="288.6" stroke="#f08c8c" stroke-width="0.65" />
<line x1="243.82" y1="281" x2="243.82" y2="288.6" stroke="#f5a3a3" stroke-width="0.65" />
<line x1="242.82" y1="281" x2="244.82" y2="281" stroke="#f08c8c" stroke-width="0.65" />
<line x1="242.82" y1="288.6" x2="244.82" y2="288.6" stroke="#f08c8c" stroke-width="0.65" />
<line x1="245.72" y1="281" x2="245.72" y2="288.6" stroke="#f5a3a3" stroke-width="0.65" />
<line x1="244.72" y1="281" x2="246.72" y2="281" stroke="#f08c8c" stroke-width="0.65" />
<line x1="244.72" y1="288.6" x2="246.72" y2="288.6" stroke="#f08c8c" stroke-width="0.65" />
<line x1="247.63" y1="281" x2="247.63" y2="288.6" stroke="#f5a3a3" stroke-width="0.65" />
<line x1="246.63" y1="281" x2="248.63" y2="281" stroke="#f08c8c" stroke-width="0.65" />
<line x1="246.63" y1="288.6" x2="248.63" y2="288.6" stroke="#f08c8c" stroke-width="0.65" />
<line x1="249.53" y1="281" x2="249.53" y2="288.6" stroke="#f5a3a3" stroke-width="0.65" />
<line x1="248.53" y1="281" x2="250.53" y2="281" stroke="#f08c8c" stroke-width="0.65" />
<line x1="248.53" y1="288.6" x2="250.53" y2="288.6" stroke="#f08c8c" stroke-width="0.65" />
<line x1="251.44" y1="281" x2="251.44" y2="288.6" stroke="#f5a3a3" stroke-width="0.65" />
<line x1="250.44" y1="281" x2="252.44" y2="281" stroke="#f08c8c" stroke-width="0.65" />
<line x1="250.44" y1="288.6" x2="252.44" y2="288.6" stroke="#f08c8c" stroke-width="0.65" />
<line x1="253.34" y1="281" x2="253.34" y2="288.6" stroke="#f5a3a3" stroke-width="0.65" />
<line x1="252.34" y1="281" x2="254.34" y2="281" stroke="#f08c8c" stroke-width="0.65" />
<line x1="252.34" y1="288.6" x2="254.34" y2="288.6" stroke="#f08c8c" stroke-width="0.65" />
<line x1="255.25" y1="281" x2="255.25" y2="288.6" stroke="#f5a3a3" stroke-width="0.65" />
<line x1="254.25" y1="281" x2="256.25" y2="281" stroke="#f08c8c" stroke-width="0.65" />
<line x1="254.25" y1="288.6" x2="256.25" y2="288.6" stroke="#f08c8c" stroke-width="0.65" />
<line x1="257.15" y1="281" x2="257.15" y2="288.6" stroke="#f5a3a3" stroke-width="0.65" />
<line x1="256.15" y1="281" x2="258.15" y2="281" stroke="#f08c8c" stroke-width="0.65" />
<line x1="256.15" y1="288.6" x2="258.15" y2="288.6" stroke="#f08c8c" stroke-width="0.65" />
<line x1="259.06" y1="281" x2="259.06" y2="288.6" stroke="#f5a3a3" stroke-width="0.65" />
<line x1="258.06" y1="281" x2="260.06" y2="281" stroke="#f08c8c" stroke-width="0.65" />
<line x1="258.06" y1="288.6" x2="260.06" y2="288.6" stroke="#f08c8c" stroke-width="0.65" />
<line x1="260.96" y1="280.99" x2="260.96" y2="288.59" stroke="#f5a3a3" stroke-width="0.65" />
<line x1="259.96" y1="280.99" x2="261.96" y2="280.99" stroke="#f08c8c" stroke-width="0.65" />
<line x1="259.96" y1="288.59" x2="261.96" y2="288.59" stroke="#f08c8c" stroke-width="0.65" />
<line x1="262.87" y1="280.96" x2="262.87" y2="288.56" stroke="#f5a3a3" stroke-width="0.65" />
<line x1="261.87" y1="280.96" x2="263.87" y2="280.96" stroke="#f08c8c" stroke-width="0.65" />
<line x1="261.87" y1="288.56" x2="263.87" y2="288.56" stroke="#f08c8c" stroke-width="0.65" />
<line x1="264.78" y1="280.89" x2="264.78" y2="288.49" stroke="#f5a3a3" stroke-width="0.65" />
<line x1="263.78" y1="280.89" x2="265.78" y2="280.89" stroke="#f08c8c" stroke-width="0.65" />
<line x1="263.78" y1="288.49" x2="265.78" y2="288.49" stroke="#f08c8c" stroke-width="0.65" />
<line x1="266.68" y1="280.79" x2="266.68" y2="288.39" stroke="#f5a3a3" stroke-width="0.65" />
<line x1="265.68" y1="280.79" x2="267.68" y2="280.79" stroke="#f08c8c" stroke-width="0.65" />
<line x1="265.68" y1="288.39" x2="267.68" y2="288.39" stroke="#f08c8c" stroke-width="0.65" />
<line x1="268.59" y1="280.66" x2="268.59" y2="288.26" stroke="#f5a3a3" stroke-width="0.65" />
<line x1="267.59" y1="280.66" x2="269.59" y2="280.66" stroke="#f08c8c" stroke-width="0.65" />
<line x1="267.59" y1="288.26" x2="269.59" y2="288.26" stroke="#f08c8c" stroke-width="0.65" />
<line x1="270.49" y1="280.52" x2="270.49" y2="288.12" stroke="#f5a3a3" stroke-width="0.65" />
<line x1="269.49" y1="280.52" x2="271.49" y2="280.52" stroke="#f08c8c" stroke-width="0.65" />
<line x1="269.49" y1="288.12" x2="271.49" y2="288.12" stroke="#f08c8c" stroke-width="0.65" />
<line x1="272.4" y1="280.37" x2="272.4" y2="287.97" stroke="#f5a3a3" stroke-width="0.65" />
<line x1="271.4" y1="280.37" x2="273.4" y2="280.37" stroke="#f08c8c" stroke-width="0.65" />
<line x1="271.4" y1="287.97" x2="273.4" y2="287.97" stroke="#f08c8c" stroke-width="0.65" />
<line x1="274.3" y1="280.21" x2="274.3" y2="287.81" stroke="#f5a3a3" stroke-width="0.65" />
<line x1="273.3" y1="280.21" x2="275.3" y2="280.21" stroke="#f08c8c" stroke-width="0.65" />
<line x1="273.3" y1="287.81" x2="275.3" y2="287.81" stroke="#f08c8c" stroke-width="0.65" />
<line x1="276.21" y1="280.04" x2="276.21" y2="287.64" stroke="#f5a3a3" stroke-width="0.65" />
<line x1="275.21" y1="280.04" x2="277.21" y2="280.04" stroke="#f08c8c" stroke-width="0.65" />
<line x1="275.21" y1="287.64" x2="277.21" y2="287.64" stroke="#f08c8c" stroke-width="0.65" />
<line x1="278.11" y1="279.87" x2="278.11" y2="287.47" stroke="#f5a3a3" stroke-width="0.65" />
<line x1="277.11" y1="279.87" x2="279.11" y2="279.87" stroke="#f08c8c" stroke-width="0.65" />
<line x1="277.11" y1="287.47" x2="279.11" y2="287.47" stroke="#f08c8c" stroke-width="0.65" />
<line x1="280.02" y1="279.71" x2="280.02" y2="287.31" stroke="#f5a3a3" stroke-width="0.65" />
<line x1="279.02" y1="279.71" x2="281.02" y2="279.71" stroke="#f08c8c" stroke-width="0.65" />
<line x1="279.02" y1="287.31" x2="281.02" y2="287.31" stroke="#f08c8c" stroke-width="0.65" />
<line x1="281.92" y1="279.53" x2="281.92" y2="287.13" stroke="#f5a3a3" stroke-width="0.65" />
<line x1="280.92" y1="279.53" x2="282.92" y2="279.53" stroke="#f08c8c" stroke-width="0.65" />
<line x1="280.92" y1="287.13" x2="282.92" y2="287.13" stroke="#f08c8c" stroke-width="0.65" />
<line x1="283.83" y1="279.33" x2="283.83" y2="286.93" stroke="#f5a3a3" stroke-width="0.65" />
<line x1="282.83" y1="279.33" x2="284.83" y2="279.33" stroke="#f08c8c" stroke-width="0.65" />
<line x1="282.83" y1="286.93" x2="284.83" y2="286.93" stroke="#f08c8c" stroke-width="0.65" />
<line x1="285.74" y1="279.11" x2="285.74" y2="286.71" stroke="#f5a3a3" stroke-width="0.65" />
<line x1="284.74" y1="279.11" x2="286.74" y2="279.11" stroke="#f08c8c" stroke-width="0.65" />
<line x1="284.74" y1="286.71" x2="286.74" y2="286.71" stroke="#f08c8c" stroke-width="0.65" />
<line x1="287.64" y1="278.85" x2="287.64" y2="286.45" stroke="#f5a3a3" stroke-width="0.65" />
<line x1="286.64" y1="278.85" x2="288.64" y2="278.85" stroke="#f08c8c" stroke-width="0.65" />
<line x1="286.64" y1="286.45" x2="288.64" y2="286.45" stroke="#f08c8c" stroke-width="0.65" />
<line x1="289.55" y1="278.57" x2="289.55" y2="286.17" stroke="#f5a3a3" stroke-width="0.65" />
<line x1="288.55" y1="278.57" x2="290.55" y2="278.57" stroke="#f08c8c" stroke-width="0.65" />
<line x1="288.55" y1="286.17" x2="290.55" y2="286.17" stroke="#f08c8c" stroke-width="0.65" />
<line x1="291.45" y1="278.25" x2="291.45" y2="285.85" stroke="#f5a3a3" stroke-width="0.65" />
<line x1="290.45" y1="278.25" x2="292.45" y2="278.25" stroke="#f08c8c" stroke-width="0.65" />
<line x1="290.45" y1="285.85" x2="292.45" y2="285.85" stroke="#f08c8c" stroke-width="0.65" />
<line x1="293.36" y1="277.88" x2="293.36" y2="285.48" stroke="#f5a3a3" stroke-width="0.65" />
<line x1="292.36" y1="277.88" x2="294.36" y2="277.88" stroke="#f08c8c" stroke-width="0.65" />
<line x1="292.36" y1="285.48" x2="294.36" y2="285.48" stroke="#f08c8c" stroke-width="0.65" />
<line x1="295.26" y1="277.45" x2="295.26" y2="285.05" stroke="#f5a3a3" stroke-width="0.65" />
<line x1="294.26" y1="277.45" x2="296.26" y2="277.45" stroke="#f08c8c" stroke-width="0.65" />
<line x1="294.26" y1="285.05" x2="296.26" y2="285.05" stroke="#f08c8c" stroke-width="0.65" />
<line x1="297.17" y1="276.95" x2="297.17" y2="284.55" stroke="#f5a3a3" stroke-width="0.65" />
<line x1="296.17" y1="276.95" x2="298.17" y2="276.95" stroke="#f08c8c" stroke-width="0.65" />
<line x1="296.17" y1="284.55" x2="298.17" y2="284.55" stroke="#f08c8c" stroke-width="0.65" />
<line x1="299.07" y1="276.33" x2="299.07" y2="283.93" stroke="#f5a3a3" stroke-width="0.65" />
<line x1="298.07" y1="276.33" x2="300.07" y2="276.33" stroke="#f08c8c" stroke-width="0.65" />
<line x1="298.07" y1="283.93" x2="300.07" y2="283.93" stroke="#f08c8c" stroke-width="0.65" />
<line x1="300.98" y1="275.4" x2="300.98" y2="283.19" stroke="#f5a3a3" stroke-width="0.65" />
<line x1="299.98" y1="275.4" x2="301.98" y2="275.4" stroke="#f08c8c" stroke-width="0.65" />
<line x1="299.98" y1="283.19" x2="301.98" y2="283.19" stroke="#f08c8c" stroke-width="0.65" />
<line x1="302.89" y1="274.17" x2="302.89" y2="282.35" stroke="#f5a3a3" stroke-width="0.65" />
<line x1="301.89" y1="274.17" x2="303.89" y2="274.17" stroke="#f08c8c" stroke-width="0.65" />
<line x1="301.89" y1="282.35" x2="303.89" y2="282.35" stroke="#f08c8c" stroke-width="0.65" />
<line x1="304.79" y1="272.78" x2="304.79" y2="281.33" stroke="#f5a3a3" stroke-width="0.65" />
<line x1="303.79" y1="272.78" x2="305.79" y2="272.78" stroke="#f08c8c" stroke-width="0.65" />
<line x1="303.79" y1="281.33" x2="305.79" y2="281.33" stroke="#f08c8c" stroke-width="0.65" />
<line x1="306.7" y1="271.25" x2="306.7" y2="280.19" stroke="#f5a3a3" stroke-width="0.65" />
<line x1="305.7" y1="271.25" x2="307.7" y2="271.25" stroke="#f08c8c" stroke-width="0.65" />
<line x1="305.7" y1="280.19" x2="307.7" y2="280.19" stroke="#f08c8c" stroke-width="0.65" />
<line x1="308.6" y1="269.49" x2="308.6" y2="278.81" stroke="#f5a3a3" stroke-width="0.65" />
<line x1="307.6" y1="269.49" x2="309.6" y2="269.49" stroke="#f08c8c" stroke-width="0.65" />
<line x1="307.6" y1="278.81" x2="309.6" y2="278.81" stroke="#f08c8c" stroke-width="0.65" />
<line x1="310.51" y1="267.34" x2="310.51" y2="277.05" stroke="#f5a3a3" stroke-width="0.65" />
<line x1="309.51" y1="267.34" x2="311.51" y2="267.34" stroke="#f08c8c" stroke-width="0.65" />
<line x1="309.51" y1="277.05" x2="311.51" y2="277.05" stroke="#f08c8c" stroke-width="0.65" />
<line x1="312.41" y1="264.97" x2="312.41" y2="275.06" stroke="#f5a3a3" stroke-width="0.65" />
<line x1="311.41" y1="264.97" x2="313.41" y2="264.97" stroke="#f08c8c" stroke-width="0.65" />
<line x1="311.41" y1="275.06" x2="313.41" y2="275.06" stroke="#f08c8c" stroke-width="0.65" />
<line x1="314.32" y1="262.55" x2="314.32" y2="273.01" stroke="#f5a3a3" stroke-width="0.65" />
<line x1="313.32" y1="262.55" x2="315.32" y2="262.55" stroke="#f08c8c" stroke-width="0.65" />
<line x1="313.32" y1="273.01" x2="315.32" y2="273.01" stroke="#f08c8c" stroke-width="0.65" />
<line x1="316.22" y1="260.05" x2="316.22" y2="270.89" stroke="#f5a3a3" stroke-width="0.65" />
<line x1="315.22" y1="260.05" x2="317.22" y2="260.05" stroke="#f08c8c" stroke-width="0.65" />
<line x1="315.22" y1="270.89" x2="317.22" y2="270.89" stroke="#f08c8c" stroke-width="0.65" />
<line x1="318.13" y1="257.39" x2="318.13" y2="268.62" stroke="#f5a3a3" stroke-width="0.65" />
<line x1="317.13" y1="257.39" x2="319.13" y2="257.39" stroke="#f08c8c" stroke-width="0.65" />
<line x1="317.13" y1="268.62" x2="319.13" y2="268.62" stroke="#f08c8c" stroke-width="0.65" />
<line x1="320.03" y1="254.6" x2="320.03" y2="266.21" stroke="#f5a3a3" stroke-width="0.65" />
<line x1="319.03" y1="254.6" x2="321.03" y2="254.6" stroke="#f08c8c" stroke-width="0.65" />
<line x1="319.03" y1="266.21" x2="321.03" y2="266.21" stroke="#f08c8c" stroke-width="0.65" />
<line x1="321.94" y1="251.65" x2="321.94" y2="263.63" stroke="#f5a3a3" stroke-width="0.65" />
<line x1="320.94" y1="251.65" x2="322.94" y2="251.65" stroke="#f08c8c" stroke-width="0.65" />
<line x1="320.94" y1="263.63" x2="322.94" y2="263.63" stroke="#f08c8c" stroke-width="0.65" />
<line x1="323.85" y1="248.62" x2="323.85" y2="260.99" stroke="#f5a3a3" stroke-width="0.65" />
<line x1="322.85" y1="248.62" x2="324.85" y2="248.62" stroke="#f08c8c" stroke-width="0.65" />
<line x1="322.85" y1="260.99" x2="324.85" y2="260.99" stroke="#f08c8c" stroke-width="0.65" />
<line x1="325.75" y1="245.61" x2="325.75" y2="258.36" stroke="#f5a3a3" stroke-width="0.65" />
<line x1="324.75" y1="245.61" x2="326.75" y2="245.61" stroke="#f08c8c" stroke-width="0.65" />
<line x1="324.75" y1="258.36" x2="326.75" y2="258.36" stroke="#f08c8c" stroke-width="0.65" />
<line x1="327.66" y1="242.52" x2="327.66" y2="255.65" stroke="#f5a3a3" stroke-width="0.65" />
<line x1="326.66" y1="242.52" x2="328.66" y2="242.52" stroke="#f08c8c" stroke-width="0.65" />
<line x1="326.66" y1="255.65" x2="328.66" y2="255.65" stroke="#f08c8c" stroke-width="0.65" />
<line x1="329.56" y1="239.48" x2="329.56" y2="252.99" stroke="#f5a3a3" stroke-width="0.65" />
<line x1="328.56" y1="239.48" x2="330.56" y2="239.48" stroke="#f08c8c" stroke-width="0.65" />
<line x1="328.56" y1="252.99" x2="330.56" y2="252.99" stroke="#f08c8c" stroke-width="0.65" />
<line x1="331.47" y1="236.69" x2="331.47" y2="250.59" stroke="#f5a3a3" stroke-width="0.65" />
<line x1="330.47" y1="236.69" x2="332.47" y2="236.69" stroke="#f08c8c" stroke-width="0.65" />
<line x1="330.47" y1="250.59" x2="332.47" y2="250.59" stroke="#f08c8c" stroke-width="0.65" />
<line x1="333.37" y1="234.23" x2="333.37" y2="248.51" stroke="#f5a3a3" stroke-width="0.65" />
<line x1="332.37" y1="234.23" x2="334.37" y2="234.23" stroke="#f08c8c" stroke-width="0.65" />
<line x1="332.37" y1="248.51" x2="334.37" y2="248.51" stroke="#f08c8c" stroke-width="0.65" />
<line x1="335.28" y1="231.96" x2="335.28" y2="246.61" stroke="#f5a3a3" stroke-width="0.65" />
<line x1="334.28" y1="231.96" x2="336.28" y2="231.96" stroke="#f08c8c" stroke-width="0.65" />
<line x1="334.28" y1="246.61" x2="336.28" y2="246.61" stroke="#f08c8c" stroke-width="0.65" />
<line x1="337.18" y1="229.77" x2="337.18" y2="244.8" stroke="#f5a3a3" stroke-width="0.65" />
<line x1="336.18" y1="229.77" x2="338.18" y2="229.77" stroke="#f08c8c" stroke-width="0.65" />
<line x1="336.18" y1="244.8" x2="338.18" y2="244.8" stroke="#f08c8c" stroke-width="0.65" />
<line x1="339.09" y1="227.55" x2="339.09" y2="242.97" stroke="#f5a3a3" stroke-width="0.65" />
<line x1="338.09" y1="227.55" x2="340.09" y2="227.55" stroke="#f08c8c" stroke-width="0.65" />
<line x1="338.09" y1="242.97" x2="340.09" y2="242.97" stroke="#f08c8c" stroke-width="0.65" />
<line x1="340.99" y1="225.23" x2="340.99" y2="241.03" stroke="#f5a3a3" stroke-width="0.65" />
<line x1="339.99" y1="225.23" x2="341.99" y2="225.23" stroke="#f08c8c" stroke-width="0.65" />
<line x1="339.99" y1="241.03" x2="341.99" y2="241.03" stroke="#f08c8c" stroke-width="0.65" />
<line x1="342.9" y1="222.97" x2="342.9" y2="239.15" stroke="#f5a3a3" stroke-width="0.65" />
<line x1="341.9" y1="222.97" x2="343.9" y2="222.97" stroke="#f08c8c" stroke-width="0.65" />
<line x1="341.9" y1="239.15" x2="343.9" y2="239.15" stroke="#f08c8c" stroke-width="0.65" />
<line x1="344.81" y1="221.02" x2="344.81" y2="237.58" stroke="#f5a3a3" stroke-width="0.65" />
<line x1="343.81" y1="221.02" x2="345.81" y2="221.02" stroke="#f08c8c" stroke-width="0.65" />
<line x1="343.81" y1="237.58" x2="345.81" y2="237.58" stroke="#f08c8c" stroke-width="0.65" />
<line x1="346.71" y1="219.34" x2="346.71" y2="236.28" stroke="#f5a3a3" stroke-width="0.65" />
<line x1="345.71" y1="219.34" x2="347.71" y2="219.34" stroke="#f08c8c" stroke-width="0.65" />
<line x1="345.71" y1="236.28" x2="347.71" y2="236.28" stroke="#f08c8c" stroke-width="0.65" />
<line x1="348.62" y1="217.94" x2="348.62" y2="235.27" stroke="#f5a3a3" stroke-width="0.65" />
<line x1="347.62" y1="217.94" x2="349.62" y2="217.94" stroke="#f08c8c" stroke-width="0.65" />
<line x1="347.62" y1="235.27" x2="349.62" y2="235.27" stroke="#f08c8c" stroke-width="0.65" />
<line x1="350.52" y1="217.99" x2="350.52" y2="235.7" stroke="#f5a3a3" stroke-width="0.65" />
<line x1="349.52" y1="217.99" x2="351.52" y2="217.99" stroke="#f08c8c" stroke-width="0.65" />
<line x1="349.52" y1="235.7" x2="351.52" y2="235.7" stroke="#f08c8c" stroke-width="0.65" />
<line x1="353.2" y1="225.8" x2="353.2" y2="239.8" stroke="#f5a3a3" stroke-width="0.65" />
<line x1="352.2" y1="225.8" x2="354.2" y2="225.8" stroke="#f08c8c" stroke-width="0.65" />
<line x1="352.2" y1="239.8" x2="354.2" y2="239.8" stroke="#f08c8c" stroke-width="0.65" />
<line x1="355.2" y1="233.3" x2="355.2" y2="253.3" stroke="#f5a3a3" stroke-width="0.65" />
<line x1="354.2" y1="233.3" x2="356.2" y2="233.3" stroke="#f08c8c" stroke-width="0.65" />
<line x1="354.2" y1="253.3" x2="356.2" y2="253.3" stroke="#f08c8c" stroke-width="0.65" />
<line x1="357.1" y1="250.6" x2="357.1" y2="270.6" stroke="#f5a3a3" stroke-width="0.65" />
<line x1="356.1" y1="250.6" x2="358.1" y2="250.6" stroke="#f08c8c" stroke-width="0.65" />
<line x1="356.1" y1="270.6" x2="358.1" y2="270.6" stroke="#f08c8c" stroke-width="0.65" />
<line x1="358.7" y1="267.1" x2="358.7" y2="287.1" stroke="#f5a3a3" stroke-width="0.65" />
<line x1="357.7" y1="267.1" x2="359.7" y2="267.1" stroke="#f08c8c" stroke-width="0.65" />
<line x1="357.7" y1="287.1" x2="359.7" y2="287.1" stroke="#f08c8c" stroke-width="0.65" />
<line x1="362.3" y1="299.8" x2="362.3" y2="319.8" stroke="#f5a3a3" stroke-width="0.65" />
<line x1="361.3" y1="299.8" x2="363.3" y2="299.8" stroke="#f08c8c" stroke-width="0.65" />
<line x1="361.3" y1="319.8" x2="363.3" y2="319.8" stroke="#f08c8c" stroke-width="0.65" />
<line x1="364.2" y1="310.8" x2="364.2" y2="330.8" stroke="#f5a3a3" stroke-width="0.65" />
<line x1="363.2" y1="310.8" x2="365.2" y2="310.8" stroke="#f08c8c" stroke-width="0.65" />
<line x1="363.2" y1="330.8" x2="365.2" y2="330.8" stroke="#f08c8c" stroke-width="0.65" />
<line x1="365.9" y1="322" x2="365.9" y2="341.2" stroke="#f5a3a3" stroke-width="0.65" />
<line x1="364.9" y1="322" x2="366.9" y2="322" stroke="#f08c8c" stroke-width="0.65" />
<rect x="202.55" y="283.55" width="2.5" height="2.5" fill="#ff0000" stroke="none" stroke-width="0" />
<rect x="204.46" y="283.55" width="2.5" height="2.5" fill="#ff0000" stroke="none" stroke-width="0" />
<rect x="206.36" y="283.55" width="2.5" height="2.5" fill="#ff0000" stroke="none" stroke-width="0" />
<rect x="208.27" y="283.55" width="2.5" height="2.5" fill="#ff0000" stroke="none" stroke-width="0" />
<rect x="210.17" y="283.55" width="2.5" height="2.5" fill="#ff0000" stroke="none" stroke-width="0" />
<rect x="212.08" y="283.55" width="2.5" height="2.5" fill="#ff0000" stroke="none" stroke-width="0" />
<rect x="213.98" y="283.55" width="2.5" height="2.5" fill="#ff0000" stroke="none" stroke-width="0" />
<rect x="215.89" y="283.55" width="2.5" height="2.5" fill="#ff0000" stroke="none" stroke-width="0" />
<rect x="217.79" y="283.55" width="2.5" height="2.5" fill="#ff0000" stroke="none" stroke-width="0" />
<rect x="219.7" y="283.55" width="2.5" height="2.5" fill="#ff0000" stroke="none" stroke-width="0" />
<rect x="221.6" y="283.55" width="2.5" height="2.5" fill="#ff0000" stroke="none" stroke-width="0" />
<rect x="223.51" y="283.55" width="2.5" height="2.5" fill="#ff0000" stroke="none" stroke-width="0" />
<rect x="225.42" y="283.55" width="2.5" height="2.5" fill="#ff0000" stroke="none" stroke-width="0" />
<rect x="227.32" y="283.55" width="2.5" height="2.5" fill="#ff0000" stroke="none" stroke-width="0" />
<rect x="229.23" y="283.55" width="2.5" height="2.5" fill="#ff0000" stroke="none" stroke-width="0" />
<rect x="231.13" y="283.55" width="2.5" height="2.5" fill="#ff0000" stroke="none" stroke-width="0" />
<rect x="233.04" y="283.55" width="2.5" height="2.5" fill="#ff0000" stroke="none" stroke-width="0" />
<rect x="234.94" y="283.55" width="2.5" height="2.5" fill="#ff0000" stroke="none" stroke-width="0" />
<rect x="236.85" y="283.55" width="2.5" height="2.5" fill="#ff0000" stroke="none" stroke-width="0" />
<rect x="238.75" y="283.55" width="2.5" height="2.5" fill="#ff0000" stroke="none" stroke-width="0" />
<rect x="240.66" y="283.55" width="2.5" height="2.5" fill="#ff0000" stroke="none" stroke-width="0" />
<rect x="242.57" y="283.55" width="2.5" height="2.5" fill="#ff0000" stroke="none" stroke-width="0" />
<rect x="244.47" y="283.55" width="2.5" height="2.5" fill="#ff0000" stroke="none" stroke-width="0" />
<rect x="246.38" y="283.55" width="2.5" height="2.5" fill="#ff0000" stroke="none" stroke-width="0" />
<rect x="248.28" y="283.55" width="2.5" height="2.5" fill="#ff0000" stroke="none" stroke-width="0" />
<rect x="250.19" y="283.55" width="2.5" height="2.5" fill="#ff0000" stroke="none" stroke-width="0" />
<rect x="252.09" y="283.55" width="2.5" height="2.5" fill="#ff0000" stroke="none" stroke-width="0" />
<rect x="254" y="283.55" width="2.5" height="2.5" fill="#ff0000" stroke="none" stroke-width="0" />
<rect x="255.9" y="283.55" width="2.5" height="2.5" fill="#ff0000" stroke="none" stroke-width="0" />
<rect x="257.81" y="283.55" width="2.5" height="2.5" fill="#ff0000" stroke="none" stroke-width="0" />
<rect x="259.71" y="283.54" width="2.5" height="2.5" fill="#ff0000" stroke="none" stroke-width="0" />
<rect x="261.62" y="283.51" width="2.5" height="2.5" fill="#ff0000" stroke="none" stroke-width="0" />
<rect x="263.53" y="283.44" width="2.5" height="2.5" fill="#ff0000" stroke="none" stroke-width="0" />
<rect x="265.43" y="283.34" width="2.5" height="2.5" fill="#ff0000" stroke="none" stroke-width="0" />
<rect x="267.34" y="283.21" width="2.5" height="2.5" fill="#ff0000" stroke="none" stroke-width="0" />
<rect x="269.24" y="283.07" width="2.5" height="2.5" fill="#ff0000" stroke="none" stroke-width="0" />
<rect x="271.15" y="282.92" width="2.5" height="2.5" fill="#ff0000" stroke="none" stroke-width="0" />
<rect x="273.05" y="282.76" width="2.5" height="2.5" fill="#ff0000" stroke="none" stroke-width="0" />
<rect x="274.96" y="282.59" width="2.5" height="2.5" fill="#ff0000" stroke="none" stroke-width="0" />
<rect x="276.86" y="282.42" width="2.5" height="2.5" fill="#ff0000" stroke="none" stroke-width="0" />
<rect x="278.77" y="282.26" width="2.5" height="2.5" fill="#ff0000" stroke="none" stroke-width="0" />
<rect x="280.67" y="282.08" width="2.5" height="2.5" fill="#ff0000" stroke="none" stroke-width="0" />
<rect x="282.58" y="281.88" width="2.5" height="2.5" fill="#ff0000" stroke="none" stroke-width="0" />
<rect x="284.49" y="281.66" width="2.5" height="2.5" fill="#ff0000" stroke="none" stroke-width="0" />
<rect x="286.39" y="281.4" width="2.5" height="2.5" fill="#ff0000" stroke="none" stroke-width="0" />
<rect x="288.3" y="281.12" width="2.5" height="2.5" fill="#ff0000" stroke="none" stroke-width="0" />
<rect x="290.2" y="280.8" width="2.5" height="2.5" fill="#ff0000" stroke="none" stroke-width="0" />
<rect x="292.11" y="280.43" width="2.5" height="2.5" fill="#ff0000" stroke="none" stroke-width="0" />
<rect x="294.01" y="280" width="2.5" height="2.5" fill="#ff0000" stroke="none" stroke-width="0" />
<rect x="295.92" y="279.5" width="2.5" height="2.5" fill="#ff0000" stroke="none" stroke-width="0" />
<rect x="297.82" y="278.88" width="2.5" height="2.5" fill="#ff0000" stroke="none" stroke-width="0" />
<rect x="299.73" y="278.04" width="2.5" height="2.5" fill="#ff0000" stroke="none" stroke-width="0" />
<rect x="301.64" y="277.01" width="2.5" height="2.5" fill="#ff0000" stroke="none" stroke-width="0" />
<rect x="303.54" y="275.81" width="2.5" height="2.5" fill="#ff0000" stroke="none" stroke-width="0" />
<rect x="305.45" y="274.47" width="2.5" height="2.5" fill="#ff0000" stroke="none" stroke-width="0" />
<rect x="307.35" y="272.9" width="2.5" height="2.5" fill="#ff0000" stroke="none" stroke-width="0" />
<rect x="309.26" y="270.95" width="2.5" height="2.5" fill="#ff0000" stroke="none" stroke-width="0" />
<rect x="311.16" y="268.77" width="2.5" height="2.5" fill="#ff0000" stroke="none" stroke-width="0" />
<rect x="313.07" y="266.53" width="2.5" height="2.5" fill="#ff0000" stroke="none" stroke-width="0" />
<rect x="314.97" y="264.22" width="2.5" height="2.5" fill="#ff0000" stroke="none" stroke-width="0" />
<rect x="316.88" y="261.75" width="2.5" height="2.5" fill="#ff0000" stroke="none" stroke-width="0" />
<rect x="318.78" y="259.16" width="2.5" height="2.5" fill="#ff0000" stroke="none" stroke-width="0" />
<rect x="320.69" y="256.39" width="2.5" height="2.5" fill="#ff0000" stroke="none" stroke-width="0" />
<rect x="322.6" y="253.55" width="2.5" height="2.5" fill="#ff0000" stroke="none" stroke-width="0" />
<rect x="324.5" y="250.74" width="2.5" height="2.5" fill="#ff0000" stroke="none" stroke-width="0" />
<rect x="326.41" y="247.84" width="2.5" height="2.5" fill="#ff0000" stroke="none" stroke-width="0" />
<rect x="328.31" y="244.99" width="2.5" height="2.5" fill="#ff0000" stroke="none" stroke-width="0" />
<rect x="330.22" y="242.39" width="2.5" height="2.5" fill="#ff0000" stroke="none" stroke-width="0" />
<rect x="332.12" y="240.12" width="2.5" height="2.5" fill="#ff0000" stroke="none" stroke-width="0" />
<rect x="334.03" y="238.03" width="2.5" height="2.5" fill="#ff0000" stroke="none" stroke-width="0" />
<rect x="335.93" y="236.03" width="2.5" height="2.5" fill="#ff0000" stroke="none" stroke-width="0" />
<rect x="337.84" y="234.01" width="2.5" height="2.5" fill="#ff0000" stroke="none" stroke-width="0" />
<rect x="339.74" y="231.88" width="2.5" height="2.5" fill="#ff0000" stroke="none" stroke-width="0" />
<rect x="341.65" y="229.81" width="2.5" height="2.5" fill="#ff0000" stroke="none" stroke-width="0" />
<rect x="343.56" y="228.05" width="2.5" height="2.5" fill="#ff0000" stroke="none" stroke-width="0" />
<rect x="345.46" y="226.56" width="2.5" height="2.5" fill="#ff0000" stroke="none" stroke-width="0" />
<rect x="347.37" y="225.36" width="2.5" height="2.5" fill="#ff0000" stroke="none" stroke-width="0" />
<rect x="349.27" y="225.59" width="2.5" height="2.5" fill="#ff0000" stroke="none" stroke-width="0" />
<rect x="351.65" y="231.25" width="3.1" height="3.1" fill="#ff0000" stroke="none" stroke-width="0" />
<rect x="353.65" y="241.75" width="3.1" height="3.1" fill="#ff0000" stroke="none" stroke-width="0" />
<rect x="355.55" y="259.05" width="3.1" height="3.1" fill="#ff0000" stroke="none" stroke-width="0" />
<rect x="357.15" y="275.55" width="3.1" height="3.1" fill="#ff0000" stroke="none" stroke-width="0" />
<rect x="360.75" y="308.25" width="3.1" height="3.1" fill="#ff0000" stroke="none" stroke-width="0" />
<rect x="362.65" y="319.25" width="3.1" height="3.1" fill="#ff0000" stroke="none" stroke-width="0" />
<rect x="364.35" y="330.45" width="3.1" height="3.1" fill="#ff0000" stroke="none" stroke-width="0" />
<rect x="365.75" y="339.95" width="3.1" height="3.1" fill="#ff0000" stroke="none" stroke-width="0" />
<circle cx="203.8" cy="284.8" r="1.35" fill="#157af6"/>
<circle cx="205.71" cy="284.79" r="1.35" fill="#157af6"/>
<circle cx="207.61" cy="284.79" r="1.35" fill="#157af6"/>
<circle cx="209.52" cy="284.78" r="1.35" fill="#157af6"/>
<circle cx="211.42" cy="284.78" r="1.35" fill="#157af6"/>
<circle cx="213.33" cy="284.77" r="1.35" fill="#157af6"/>
<circle cx="215.23" cy="284.77" r="1.35" fill="#157af6"/>
<circle cx="217.14" cy="284.76" r="1.35" fill="#157af6"/>
<circle cx="219.04" cy="284.76" r="1.35" fill="#157af6"/>
<circle cx="220.95" cy="284.76" r="1.35" fill="#157af6"/>
<circle cx="222.85" cy="284.75" r="1.35" fill="#157af6"/>
<circle cx="224.76" cy="284.75" r="1.35" fill="#157af6"/>
<circle cx="226.67" cy="284.74" r="1.35" fill="#157af6"/>
<circle cx="228.57" cy="284.74" r="1.35" fill="#157af6"/>
<circle cx="230.48" cy="284.73" r="1.35" fill="#157af6"/>
<circle cx="232.38" cy="284.73" r="1.35" fill="#157af6"/>
<circle cx="234.29" cy="284.73" r="1.35" fill="#157af6"/>
<circle cx="236.19" cy="284.72" r="1.35" fill="#157af6"/>
<circle cx="238.1" cy="284.71" r="1.35" fill="#157af6"/>
<circle cx="240" cy="284.71" r="1.35" fill="#157af6"/>
<circle cx="241.91" cy="284.7" r="1.35" fill="#157af6"/>
<circle cx="243.82" cy="284.69" r="1.35" fill="#157af6"/>
<circle cx="245.72" cy="284.69" r="1.35" fill="#157af6"/>
<circle cx="247.63" cy="284.68" r="1.35" fill="#157af6"/>
<circle cx="249.53" cy="284.67" r="1.35" fill="#157af6"/>
<circle cx="251.44" cy="284.66" r="1.35" fill="#157af6"/>
<circle cx="253.34" cy="284.65" r="1.35" fill="#157af6"/>
<circle cx="255.25" cy="284.63" r="1.35" fill="#157af6"/>
<circle cx="257.15" cy="284.62" r="1.35" fill="#157af6"/>
<circle cx="259.06" cy="284.61" r="1.35" fill="#157af6"/>
<circle cx="260.96" cy="284.59" r="1.35" fill="#157af6"/>
<circle cx="262.87" cy="284.53" r="1.35" fill="#157af6"/>
<circle cx="264.78" cy="284.44" r="1.35" fill="#157af6"/>
<circle cx="266.68" cy="284.31" r="1.35" fill="#157af6"/>
<circle cx="268.59" cy="284.16" r="1.35" fill="#157af6"/>
<circle cx="270.49" cy="283.99" r="1.35" fill="#157af6"/>
<circle cx="272.4" cy="283.8" r="1.35" fill="#157af6"/>
<circle cx="274.3" cy="283.6" r="1.35" fill="#157af6"/>
<circle cx="276.21" cy="283.4" r="1.35" fill="#157af6"/>
<circle cx="278.11" cy="283.19" r="1.35" fill="#157af6"/>
<circle cx="280.02" cy="282.99" r="1.35" fill="#157af6"/>
<circle cx="281.92" cy="282.75" r="1.35" fill="#157af6"/>
<circle cx="283.83" cy="282.49" r="1.35" fill="#157af6"/>
<circle cx="285.74" cy="282.19" r="1.35" fill="#157af6"/>
<circle cx="287.64" cy="281.86" r="1.35" fill="#157af6"/>
<circle cx="289.55" cy="281.51" r="1.35" fill="#157af6"/>
<circle cx="291.45" cy="281.12" r="1.35" fill="#157af6"/>
<circle cx="293.36" cy="280.68" r="1.35" fill="#157af6"/>
<circle cx="295.26" cy="280.18" r="1.35" fill="#157af6"/>
<circle cx="297.17" cy="279.59" r="1.35" fill="#157af6"/>
<circle cx="299.07" cy="278.87" r="1.35" fill="#157af6"/>
<circle cx="300.98" cy="277.92" r="1.35" fill="#157af6"/>
<circle cx="302.89" cy="276.75" r="1.35" fill="#157af6"/>
<circle cx="304.79" cy="275.41" r="1.35" fill="#157af6"/>
<circle cx="306.7" cy="273.94" r="1.35" fill="#157af6"/>
<circle cx="308.6" cy="272.22" r="1.35" fill="#157af6"/>
<circle cx="310.51" cy="270.13" r="1.35" fill="#157af6"/>
<circle cx="312.41" cy="267.96" r="1.35" fill="#157af6"/>
<circle cx="314.32" cy="265.83" r="1.35" fill="#157af6"/>
<circle cx="316.22" cy="263.61" r="1.35" fill="#157af6"/>
<circle cx="318.13" cy="261.16" r="1.35" fill="#157af6"/>
<circle cx="320.03" cy="258.35" r="1.35" fill="#157af6"/>
<circle cx="321.94" cy="255.23" r="1.35" fill="#157af6"/>
<circle cx="323.85" cy="251.92" r="1.35" fill="#157af6"/>
<circle cx="325.75" cy="248.27" r="1.35" fill="#157af6"/>
<circle cx="327.66" cy="244.58" r="1.35" fill="#157af6"/>
<circle cx="329.56" cy="241.24" r="1.35" fill="#157af6"/>
<circle cx="331.47" cy="238.35" r="1.35" fill="#157af6"/>
<circle cx="333.37" cy="235.67" r="1.35" fill="#157af6"/>
<circle cx="335.28" cy="232.97" r="1.35" fill="#157af6"/>
<circle cx="337.18" cy="230.02" r="1.35" fill="#157af6"/>
<circle cx="339.09" cy="227.11" r="1.35" fill="#157af6"/>
<circle cx="340.99" cy="224.69" r="1.35" fill="#157af6"/>
<circle cx="342.9" cy="222.47" r="1.35" fill="#157af6"/>
<circle cx="344.81" cy="220.23" r="1.35" fill="#157af6"/>
<circle cx="346.71" cy="218.28" r="1.35" fill="#157af6"/>
<circle cx="348.62" cy="216.68" r="1.35" fill="#157af6"/>
<circle cx="350.52" cy="217.16" r="1.35" fill="#157af6"/>
<circle cx="353" cy="223.8" r="1.6" fill="#157af6"/>
<circle cx="354.9" cy="233" r="1.6" fill="#157af6"/>
<circle cx="356.8" cy="250.8" r="1.6" fill="#157af6"/>
<circle cx="358.7" cy="269.5" r="1.6" fill="#157af6"/>
<circle cx="360.3" cy="288.4" r="1.6" fill="#157af6"/>
<circle cx="362.2" cy="316.2" r="1.6" fill="#157af6"/>
<circle cx="363.6" cy="330.6" r="1.6" fill="#157af6"/>
<circle cx="367.3" cy="334.7" r="1.6" fill="#157af6"/>
<circle cx="369" cy="341.5" r="1.6" fill="#157af6"/>
<circle cx="370.9" cy="341.5" r="1.6" fill="#157af6"/>
<circle cx="372.8" cy="341.5" r="1.6" fill="#157af6"/>
<circle cx="374.7" cy="341.5" r="1.6" fill="#157af6"/>
<circle cx="376.6" cy="341.5" r="1.6" fill="#157af6"/>
<circle cx="378.5" cy="341.5" r="1.6" fill="#157af6"/>
<circle cx="380.4" cy="341.5" r="1.6" fill="#157af6"/>
<line x1="203.8" y1="199" x2="203.8" y2="342.4" stroke="#8a8a8a" stroke-width="1.3" />
<line x1="203.2" y1="341.8" x2="381.2" y2="341.8" stroke="#8a8a8a" stroke-width="1.3" />
<line x1="201.5" y1="341.8" x2="203.8" y2="341.8" stroke="#8a8a8a" stroke-width="0.9" />
<text transform="translate(199.2,344.4) scale(0.92,1)" font-size="8.7" text-anchor="end" font-weight="bold" fill="#0e0e0e" class="tl">0.0</text>
<line x1="202.4" y1="327.56" x2="203.8" y2="327.56" stroke="#8a8a8a" stroke-width="0.9" />
<line x1="201.5" y1="313.32" x2="203.8" y2="313.32" stroke="#8a8a8a" stroke-width="0.9" />
<text transform="translate(199.2,315.92) scale(0.92,1)" font-size="8.7" text-anchor="end" font-weight="bold" fill="#0e0e0e" class="tl">0.5</text>
<line x1="202.4" y1="299.08" x2="203.8" y2="299.08" stroke="#8a8a8a" stroke-width="0.9" />
<line x1="201.5" y1="284.84" x2="203.8" y2="284.84" stroke="#8a8a8a" stroke-width="0.9" />
<text transform="translate(199.2,287.44) scale(0.92,1)" font-size="8.7" text-anchor="end" font-weight="bold" fill="#0e0e0e" class="tl">1.0</text>
<line x1="202.4" y1="270.6" x2="203.8" y2="270.6" stroke="#8a8a8a" stroke-width="0.9" />
<line x1="201.5" y1="256.36" x2="203.8" y2="256.36" stroke="#8a8a8a" stroke-width="0.9" />
<text transform="translate(199.2,258.96) scale(0.92,1)" font-size="8.7" text-anchor="end" font-weight="bold" fill="#0e0e0e" class="tl">1.5</text>
<line x1="202.4" y1="242.12" x2="203.8" y2="242.12" stroke="#8a8a8a" stroke-width="0.9" />
<line x1="201.5" y1="227.88" x2="203.8" y2="227.88" stroke="#8a8a8a" stroke-width="0.9" />
<text transform="translate(199.2,230.48) scale(0.92,1)" font-size="8.7" text-anchor="end" font-weight="bold" fill="#0e0e0e" class="tl">2.0</text>
<line x1="202.4" y1="213.64" x2="203.8" y2="213.64" stroke="#8a8a8a" stroke-width="0.9" />
<line x1="201.5" y1="199.4" x2="203.8" y2="199.4" stroke="#8a8a8a" stroke-width="0.9" />
<text transform="translate(199.2,202) scale(0.92,1)" font-size="8.7" text-anchor="end" font-weight="bold" fill="#0e0e0e" class="tl">2.5</text>
<line x1="203.8" y1="341.8" x2="203.8" y2="344.1" stroke="#8a8a8a" stroke-width="0.9" />
<line x1="221.58" y1="341.8" x2="221.58" y2="343.2" stroke="#8a8a8a" stroke-width="0.9" />
<line x1="231.98" y1="341.8" x2="231.98" y2="343.2" stroke="#8a8a8a" stroke-width="0.9" />
<line x1="239.36" y1="341.8" x2="239.36" y2="343.2" stroke="#8a8a8a" stroke-width="0.9" />
<line x1="245.09" y1="341.8" x2="245.09" y2="343.2" stroke="#8a8a8a" stroke-width="0.9" />
<line x1="249.77" y1="341.8" x2="249.77" y2="343.2" stroke="#8a8a8a" stroke-width="0.9" />
<line x1="253.72" y1="341.8" x2="253.72" y2="343.2" stroke="#8a8a8a" stroke-width="0.9" />
<line x1="257.15" y1="341.8" x2="257.15" y2="343.2" stroke="#8a8a8a" stroke-width="0.9" />
<line x1="260.17" y1="341.8" x2="260.17" y2="343.2" stroke="#8a8a8a" stroke-width="0.9" />
<line x1="262.87" y1="341.8" x2="262.87" y2="344.1" stroke="#8a8a8a" stroke-width="0.9" />
<line x1="280.65" y1="341.8" x2="280.65" y2="343.2" stroke="#8a8a8a" stroke-width="0.9" />
<line x1="291.05" y1="341.8" x2="291.05" y2="343.2" stroke="#8a8a8a" stroke-width="0.9" />
<line x1="298.43" y1="341.8" x2="298.43" y2="343.2" stroke="#8a8a8a" stroke-width="0.9" />
<line x1="304.16" y1="341.8" x2="304.16" y2="343.2" stroke="#8a8a8a" stroke-width="0.9" />
<line x1="308.84" y1="341.8" x2="308.84" y2="343.2" stroke="#8a8a8a" stroke-width="0.9" />
<line x1="312.79" y1="341.8" x2="312.79" y2="343.2" stroke="#8a8a8a" stroke-width="0.9" />
<line x1="316.22" y1="341.8" x2="316.22" y2="343.2" stroke="#8a8a8a" stroke-width="0.9" />
<line x1="319.24" y1="341.8" x2="319.24" y2="343.2" stroke="#8a8a8a" stroke-width="0.9" />
<line x1="321.94" y1="341.8" x2="321.94" y2="344.1" stroke="#8a8a8a" stroke-width="0.9" />
<line x1="339.72" y1="341.8" x2="339.72" y2="343.2" stroke="#8a8a8a" stroke-width="0.9" />
<line x1="350.12" y1="341.8" x2="350.12" y2="343.2" stroke="#8a8a8a" stroke-width="0.9" />
<line x1="357.5" y1="341.8" x2="357.5" y2="343.2" stroke="#8a8a8a" stroke-width="0.9" />
<line x1="363.23" y1="341.8" x2="363.23" y2="343.2" stroke="#8a8a8a" stroke-width="0.9" />
<line x1="367.91" y1="341.8" x2="367.91" y2="343.2" stroke="#8a8a8a" stroke-width="0.9" />
<line x1="371.86" y1="341.8" x2="371.86" y2="343.2" stroke="#8a8a8a" stroke-width="0.9" />
<line x1="375.29" y1="341.8" x2="375.29" y2="343.2" stroke="#8a8a8a" stroke-width="0.9" />
<line x1="378.31" y1="341.8" x2="378.31" y2="343.2" stroke="#8a8a8a" stroke-width="0.9" />
<line x1="381" y1="341.8" x2="381" y2="344.1" stroke="#8a8a8a" stroke-width="0.9" />
<text transform="translate(203.8,353.7) scale(0.92,1)" font-size="8.7" text-anchor="middle" font-weight="bold" fill="#0e0e0e" class="tl">1</text>
<text transform="translate(262.87,353.7) scale(0.92,1)" font-size="8.7" text-anchor="middle" font-weight="bold" fill="#0e0e0e" class="tl">10</text>
<text transform="translate(321.94,353.7) scale(0.92,1)" font-size="8.7" text-anchor="middle" font-weight="bold" fill="#0e0e0e" class="tl">100</text>
<text transform="translate(381.01,353.7) scale(0.92,1)" font-size="8.7" text-anchor="middle" font-weight="bold" fill="#0e0e0e" class="tl">1000</text>
<text x="0" y="0" font-size="10.1" text-anchor="middle" font-weight="bold" fill="#0e0e0e" transform="translate(292.3,368.6) scale(0.93,1)">Strain Amplitude (%)</text>
<text x="0" y="0" font-size="9.9" text-anchor="middle" font-weight="bold" fill="#0e0e0e" transform="translate(183.0,270.3) rotate(-90) scale(0.93,1)">G'/G(0)</text>
<rect x="209.2" y="200.1" width="52" height="19.2" fill="#ffffff" stroke="#9a9a9a" stroke-width="0.8" />
<rect x="216.6" y="203.2" width="3.6" height="3.6" fill="#ff0000" stroke="none" stroke-width="0" />
<circle cx="218.4" cy="214.5" r="1.85" fill="#157af6"/>
<text x="228.8" y="207.7" font-size="7.1" text-anchor="start" font-weight="normal" fill="#111" >BSA</text>
<text x="228.8" y="217" font-size="7.1" text-anchor="start" font-weight="normal" fill="#111" >BSA:MBs</text>
<text transform="translate(155.4,209.6) scale(1,1)" font-size="14" font-weight="bold" fill="#0e0e0e">D</text>
<text x="165.4" y="209.8" font-size="15" font-weight="normal" fill="#0e0e0e" class="pr">)</text>
</svg>
</body></html>
